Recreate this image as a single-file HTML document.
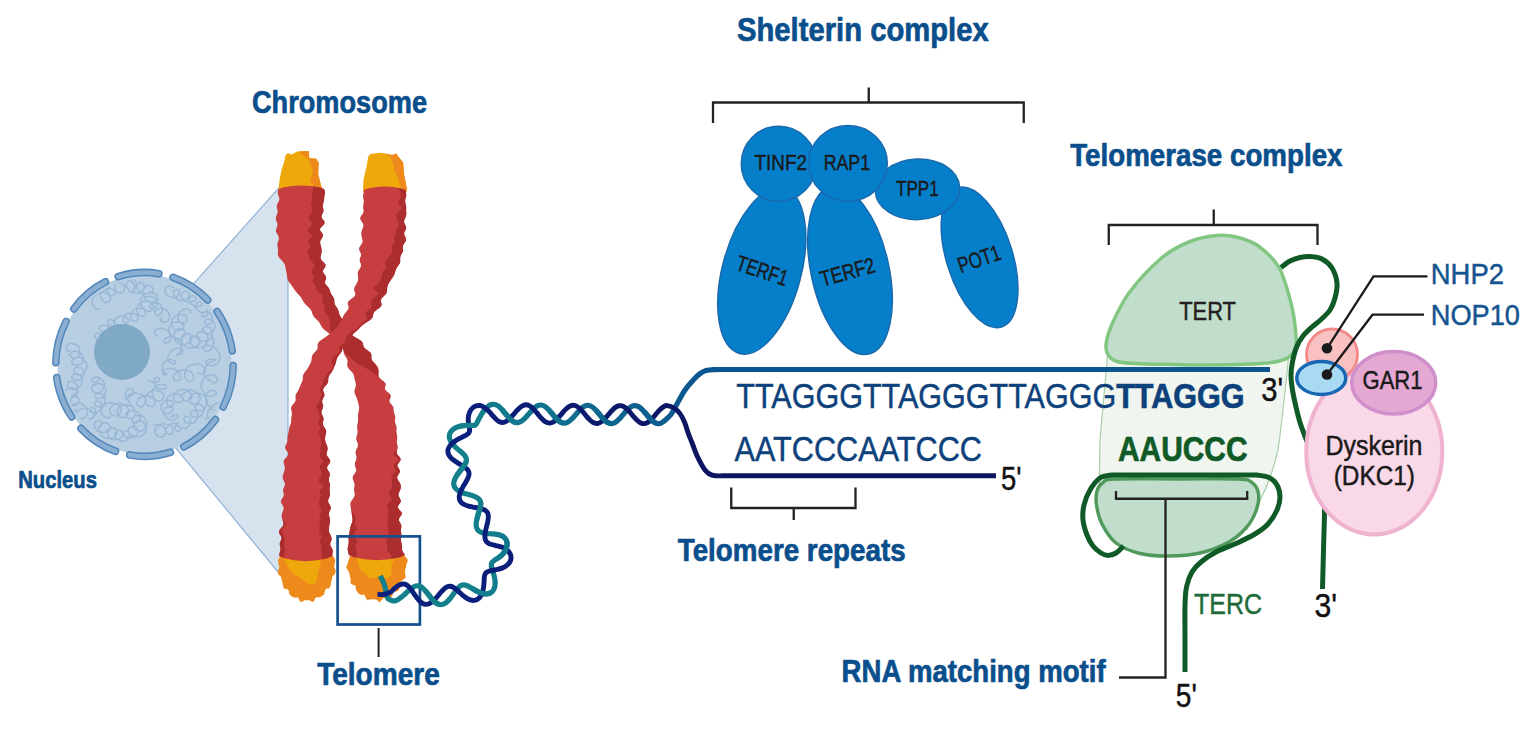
<!DOCTYPE html>
<html lang="en"><head><meta charset="utf-8"><title>Telomere structure</title>
<style>html,body{margin:0;padding:0;background:#fff;overflow:hidden}svg{display:block}</style></head>
<body>
<svg width="1536" height="730" viewBox="0 0 1536 730" font-family="'Liberation Sans', Arial, sans-serif">
<defs>
<linearGradient id="gT" gradientUnits="userSpaceOnUse" x1="470" y1="0" x2="700" y2="0"><stop offset="0" stop-color="#13808c"/><stop offset="1" stop-color="#0b5590"/></linearGradient>
<linearGradient id="gN" gradientUnits="userSpaceOnUse" x1="470" y1="0" x2="700" y2="0"><stop offset="0" stop-color="#0b1f7c"/><stop offset="1" stop-color="#0d1560"/></linearGradient>
<clipPath id="nuc"><ellipse cx="144.5" cy="364.4" rx="83.0" ry="86.0"/></clipPath>
</defs>
<rect width="1536" height="730" fill="#ffffff"/>
<path d="M150,332.7 L288,177.7 L288,584 L150,416.7 Z" fill="#d6e2ee" stroke="#8fb2d6" stroke-width="1.2" stroke-linejoin="round"/>
<ellipse cx="144.5" cy="364.4" rx="87.0" ry="90.0" fill="#b8cfe3"/>
<g clip-path="url(#nuc)" fill="none" stroke="#99b8d5" stroke-width="1.45" stroke-linecap="round">
<path d="M100.13,308.67 C99.57,308.74 97.83,309.40 96.81,309.07 C95.80,308.73 94.77,307.39 94.03,306.66 C93.30,305.92 92.69,305.65 92.39,304.67 C92.09,303.69 92.06,301.92 92.21,300.76 C92.37,299.60 92.84,298.60 93.33,297.71 C93.81,296.82 94.12,296.28 95.13,295.43 C96.14,294.58 98.10,293.15 99.38,292.61 C100.66,292.08 101.59,292.12 102.79,292.22 C103.99,292.33 105.57,292.82 106.60,293.27 C107.64,293.71 108.35,294.28 109.00,294.90 C109.65,295.52 110.30,296.10 110.51,296.98 C110.73,297.85 110.53,299.36 110.27,300.15 C110.00,300.94 109.52,301.41 108.93,301.73 C108.34,302.04 107.53,301.93 106.72,302.03 C105.91,302.13 104.84,302.65 104.05,302.33 C103.27,302.02 102.48,300.87 102.04,300.15 C101.59,299.43 101.68,298.84 101.36,298.00 C101.04,297.17 99.99,296.07 100.09,295.15 C100.19,294.23 101.35,293.27 101.96,292.48 C102.57,291.69 102.96,290.99 103.76,290.41 C104.55,289.83 105.77,289.33 106.74,288.97 C107.71,288.61 108.68,288.19 109.60,288.26 C110.53,288.33 111.51,289.05 112.30,289.38 C113.09,289.71 113.84,289.90 114.35,290.24 C114.86,290.58 115.17,290.88 115.37,291.45 C115.57,292.02 115.68,293.10 115.53,293.67 C115.37,294.25 114.79,294.59 114.44,294.89 C114.10,295.19 114.02,295.29 113.46,295.49 C112.90,295.69 111.74,296.26 111.07,296.09 C110.39,295.93 109.87,295.18 109.41,294.49 C108.95,293.79 108.69,292.67 108.30,291.94 C107.90,291.21 106.92,290.94 107.04,290.11 C107.16,289.28 108.34,287.99 109.00,286.96 C109.66,285.93 110.22,284.56 110.98,283.94 C111.75,283.32 112.48,283.54 113.60,283.25 C114.71,282.96 116.50,282.25 117.65,282.20 C118.80,282.15 119.60,282.46 120.52,282.94 C121.44,283.42 122.44,284.41 123.19,285.07 C123.94,285.72 124.85,286.11 125.03,286.88 C125.22,287.65 124.47,288.98 124.30,289.69 C124.13,290.40 124.36,290.63 124.01,291.15 C123.66,291.68 123.03,292.53 122.20,292.82 C121.36,293.10 119.89,293.08 118.99,292.85 C118.09,292.63 117.42,292.01 116.79,291.45 C116.16,290.88 115.55,290.34 115.19,289.45 C114.84,288.57 114.52,287.16 114.68,286.13 C114.83,285.11 115.43,284.23 116.13,283.33 C116.83,282.42 117.91,281.35 118.87,280.71 C119.83,280.07 120.65,279.75 121.88,279.49 C123.10,279.22 124.89,279.02 126.21,279.11 C127.53,279.20 128.81,279.46 129.80,280.02 C130.78,280.59 131.32,281.60 132.12,282.52 C132.92,283.44 134.28,284.56 134.59,285.55 C134.90,286.55 134.32,287.60 133.99,288.51 C133.66,289.42 132.41,291.09 132.64,291.00 C132.86,290.90 134.68,288.89 135.31,287.93 C135.94,286.96 136.30,286.06 136.41,285.19 C136.51,284.33 136.19,283.58 135.95,282.76 C135.70,281.93 135.64,280.79 134.95,280.25 C134.26,279.71 132.70,279.64 131.81,279.53 C130.92,279.42 130.21,279.32 129.61,279.62 C129.02,279.91 128.83,280.63 128.25,281.30 C127.66,281.97 126.42,282.78 126.10,283.66 C125.78,284.54 125.93,285.62 126.33,286.56 C126.73,287.50 127.85,288.40 128.52,289.31 C129.20,290.21 129.37,291.43 130.38,291.99 C131.40,292.56 133.20,292.50 134.61,292.71 C136.01,292.92 137.73,293.48 138.81,293.24 C139.89,292.99 140.29,291.84 141.10,291.23 C141.91,290.61 143.15,290.30 143.68,289.56 C144.21,288.82 144.26,287.55 144.30,286.80 C144.33,286.04 144.04,285.62 143.89,285.03 C143.73,284.43 143.95,283.64 143.37,283.24 C142.80,282.83 141.17,282.62 140.45,282.60 C139.73,282.57 139.48,282.74 139.05,283.07 C138.61,283.41 138.31,284.07 137.86,284.58 C137.41,285.09 136.38,285.39 136.35,286.13 C136.33,286.86 137.31,288.14 137.73,289.00 C138.14,289.86 138.40,290.66 138.85,291.30 C139.30,291.94 139.59,292.48 140.41,292.85 C141.23,293.22 142.76,293.42 143.78,293.52 C144.80,293.62 145.65,293.62 146.51,293.45 C147.37,293.27 148.13,292.80 148.91,292.49 C149.70,292.17 150.52,291.89 151.22,291.57 C151.92,291.25 152.87,291.19 153.09,290.58 C153.31,289.96 152.80,288.60 152.53,287.89 C152.26,287.17 152.11,286.72 151.50,286.31 C150.88,285.90 149.60,285.53 148.83,285.42 C148.07,285.30 147.59,285.21 146.89,285.61 C146.20,286.02 145.32,287.15 144.66,287.86 C144.00,288.57 143.23,288.92 142.93,289.90 C142.64,290.88 142.63,292.61 142.89,293.76 C143.14,294.90 143.95,295.86 144.46,296.77 C144.97,297.67 145.10,298.38 145.96,299.21 C146.83,300.04 148.60,301.25 149.66,301.74 C150.72,302.24 151.36,302.25 152.34,302.18 C153.31,302.10 154.65,301.69 155.51,301.29 C156.37,300.89 157.17,300.33 157.52,299.78 C157.86,299.23 157.76,298.83 157.60,298.01 C157.43,297.18 157.17,295.67 156.54,294.83 C155.91,293.99 154.78,293.32 153.84,292.96 C152.91,292.60 152.02,292.64 150.93,292.67 C149.84,292.69 148.49,292.66 147.31,293.10 C146.13,293.54 144.90,294.37 143.83,295.31 C142.76,296.24 141.40,297.57 140.88,298.71 C140.35,299.84 140.61,300.84 140.66,302.11 C140.71,303.37 140.82,305.24 141.19,306.30 C141.56,307.36 142.15,307.81 142.90,308.45 C143.64,309.09 144.69,309.65 145.66,310.15 C146.62,310.66 147.56,311.53 148.68,311.49 C149.81,311.45 151.60,310.56 152.42,309.91 C153.24,309.26 153.48,308.37 153.59,307.59 C153.70,306.82 153.43,306.09 153.09,305.25 C152.75,304.41 152.17,303.16 151.55,302.55 C150.93,301.95 150.29,301.82 149.35,301.63 C148.41,301.45 147.05,301.39 145.90,301.45 C144.75,301.52 143.47,301.67 142.46,302.01 C141.45,302.35 140.65,302.77 139.83,303.52 C139.00,304.26 138.04,305.45 137.52,306.46 C137.00,307.46 136.83,308.61 136.71,309.55 C136.59,310.49 136.48,311.24 136.82,312.10 C137.15,312.97 138.11,314.18 138.73,314.73 C139.34,315.28 139.86,315.11 140.49,315.39 C141.12,315.67 141.81,316.40 142.50,316.40 C143.20,316.40 144.05,315.82 144.64,315.37 C145.23,314.92 145.96,314.21 146.06,313.69 C146.16,313.17 145.51,312.83 145.24,312.24 C144.96,311.65 144.96,310.77 144.40,310.16 C143.84,309.56 142.71,308.86 141.90,308.60 C141.09,308.34 140.40,308.56 139.53,308.60 C138.66,308.64 137.69,308.57 136.67,308.85 C135.65,309.13 134.27,309.51 133.42,310.27 C132.57,311.03 131.96,312.64 131.59,313.42 C131.23,314.21 131.40,314.22 131.21,315.00 C131.02,315.78 130.34,317.24 130.45,318.11 C130.56,318.98 131.28,319.71 131.87,320.22 C132.46,320.74 133.41,321.00 133.98,321.20 C134.55,321.39 134.83,321.52 135.27,321.40 C135.71,321.27 136.09,320.90 136.61,320.44 C137.14,319.99 138.30,319.24 138.45,318.67 C138.59,318.10 137.74,317.66 137.49,317.02 C137.24,316.38 137.54,315.39 136.94,314.82 C136.34,314.26 134.90,313.83 133.88,313.64 C132.87,313.45 131.63,313.72 130.84,313.68 C130.05,313.65 129.95,313.23 129.12,313.43 C128.29,313.63 126.73,314.34 125.87,314.91 C125.00,315.47 124.34,316.26 123.92,316.82 C123.50,317.37 123.51,317.64 123.35,318.22 C123.20,318.80 122.95,319.70 123.00,320.31 C123.06,320.93 123.31,321.47 123.68,321.93 C124.04,322.39 124.73,322.83 125.19,323.06 C125.64,323.29 126.05,323.37 126.41,323.32 C126.77,323.27 126.96,323.18 127.35,322.74 C127.75,322.29 128.63,321.24 128.79,320.65 C128.94,320.06 128.66,319.58 128.31,319.19 C127.96,318.81 127.16,318.80 126.67,318.33 C126.17,317.87 126.15,316.79 125.36,316.42 C124.57,316.05 122.74,316.18 121.94,316.12 C121.13,316.05 121.23,315.87 120.53,316.03 C119.83,316.19 118.57,316.61 117.74,317.06 C116.92,317.52 116.09,318.06 115.59,318.76 C115.09,319.47 114.89,320.52 114.76,321.29 C114.62,322.06 114.68,322.78 114.75,323.39 C114.83,324.00 114.83,324.66 115.21,324.97 C115.58,325.28 116.55,325.16 117.00,325.24 C117.46,325.32 117.59,325.45 117.93,325.46 C118.27,325.48 119.13,325.18 119.05,325.34 C118.97,325.49 118.27,326.18 117.44,326.41 C116.61,326.65 115.08,326.75 114.07,326.74 C113.07,326.74 112.16,326.71 111.41,326.40 C110.66,326.09 110.15,325.41 109.57,324.87 C109.00,324.34 108.25,323.67 107.94,323.21 C107.64,322.74 107.58,322.59 107.74,322.08 C107.91,321.57 108.59,320.54 108.95,320.16 C109.31,319.78 109.39,319.87 109.89,319.80 C110.39,319.74 111.29,319.54 111.94,319.78 C112.58,320.02 113.40,320.62 113.77,321.25 C114.14,321.88 114.01,322.93 114.16,323.55 C114.30,324.18 114.72,324.27 114.65,325.02 C114.59,325.77 114.23,327.18 113.76,328.07 C113.29,328.96 112.51,329.77 111.81,330.36 C111.12,330.96 110.45,331.30 109.58,331.65 C108.72,332.00 107.64,332.29 106.62,332.47 C105.59,332.65 104.20,332.92 103.42,332.74 C102.63,332.55 102.51,331.88 101.92,331.35 C101.32,330.82 100.26,330.21 99.83,329.54 C99.40,328.87 99.08,327.94 99.32,327.32 C99.55,326.70 100.67,326.19 101.25,325.82 C101.83,325.46 102.06,325.24 102.79,325.16 C103.53,325.08 104.74,325.08 105.65,325.34 C106.56,325.60 107.63,326.07 108.26,326.74 C108.88,327.41 109.01,328.51 109.39,329.37 C109.77,330.23 110.53,330.84 110.56,331.88 C110.58,332.92 110.10,334.52 109.55,335.60 C109.00,336.68 108.21,337.74 107.26,338.38 C106.32,339.02 104.97,339.21 103.90,339.44 C102.83,339.66 101.87,339.64 100.84,339.72 C99.81,339.79 98.55,340.22 97.71,339.90 C96.88,339.59 96.35,338.40 95.82,337.84 C95.29,337.28 94.75,336.95 94.51,336.54 C94.27,336.12 94.04,335.87 94.38,335.33 C94.71,334.79 95.97,333.63 96.51,333.31 C97.06,332.98 97.07,333.33 97.64,333.37 C98.22,333.40 99.25,333.25 99.97,333.52 C100.69,333.78 101.49,334.33 101.95,334.95 C102.41,335.56 102.65,336.35 102.75,337.22 C102.85,338.09 102.59,339.43 102.56,340.19 C102.52,340.94 102.90,341.08 102.55,341.75 C102.21,342.42 101.35,343.44 100.48,344.20 C99.62,344.96 97.87,345.94 97.35,346.29"/>
<path d="M173.99,287.60 C173.47,287.32 171.77,286.12 170.88,285.90 C170.00,285.69 169.50,286.14 168.68,286.32 C167.86,286.50 166.58,286.50 165.96,286.99 C165.34,287.48 165.06,288.39 164.96,289.26 C164.87,290.14 165.24,291.42 165.41,292.23 C165.57,293.04 165.54,293.50 165.95,294.12 C166.36,294.73 167.26,295.47 167.86,295.92 C168.46,296.38 168.66,296.57 169.53,296.84 C170.41,297.10 172.02,297.38 173.12,297.49 C174.22,297.60 175.36,297.76 176.14,297.49 C176.92,297.22 177.28,296.47 177.81,295.86 C178.33,295.25 179.07,294.47 179.30,293.83 C179.53,293.20 179.13,292.60 179.18,292.05 C179.24,291.49 179.64,290.86 179.62,290.50 C179.60,290.14 179.56,290.06 179.07,289.88 C178.59,289.71 177.31,289.44 176.69,289.47 C176.07,289.50 175.95,289.70 175.35,290.05 C174.76,290.41 173.42,291.07 173.11,291.59 C172.81,292.12 173.31,292.44 173.52,293.20 C173.73,293.97 174.07,295.36 174.37,296.17 C174.67,296.99 174.65,297.45 175.32,298.10 C175.99,298.75 177.46,299.68 178.41,300.07 C179.36,300.46 180.01,300.44 181.02,300.45 C182.02,300.45 183.30,300.45 184.45,300.12 C185.59,299.79 187.17,299.05 187.88,298.47 C188.59,297.88 188.39,297.33 188.69,296.60 C188.98,295.87 189.73,294.89 189.65,294.09 C189.57,293.28 188.61,292.31 188.19,291.78 C187.76,291.25 187.54,291.03 187.09,290.90 C186.64,290.76 186.15,290.78 185.50,290.97 C184.84,291.15 183.74,291.54 183.15,292.00 C182.56,292.45 182.27,293.08 181.94,293.72 C181.62,294.36 181.18,295.10 181.20,295.82 C181.21,296.54 181.53,297.19 182.05,298.03 C182.57,298.87 183.61,300.29 184.33,300.85 C185.04,301.40 185.46,301.06 186.36,301.35 C187.26,301.65 188.79,302.57 189.73,302.61 C190.67,302.64 191.22,301.93 192.02,301.58 C192.81,301.23 193.79,300.90 194.48,300.52 C195.17,300.13 195.95,299.73 196.14,299.26 C196.34,298.79 195.71,298.24 195.66,297.69 C195.61,297.14 196.07,296.26 195.84,295.97 C195.62,295.67 194.89,296.01 194.31,295.94 C193.72,295.87 192.91,295.45 192.31,295.54 C191.72,295.62 191.25,296.03 190.74,296.44 C190.24,296.85 189.55,297.30 189.30,298.00 C189.05,298.69 189.10,299.79 189.23,300.62 C189.37,301.45 189.78,302.37 190.10,302.96 C190.41,303.56 190.44,303.73 191.12,304.21 C191.81,304.69 193.43,305.46 194.20,305.85 C194.97,306.25 195.00,306.51 195.73,306.57 C196.46,306.63 197.65,306.35 198.58,306.21 C199.51,306.07 200.84,306.09 201.30,305.76 C201.75,305.43 201.13,304.61 201.30,304.22 C201.48,303.83 202.42,303.86 202.35,303.42 C202.29,302.99 201.21,301.92 200.91,301.60 C200.60,301.28 200.80,301.44 200.55,301.50 C200.29,301.55 199.88,301.78 199.35,301.93 C198.83,302.08 197.90,302.06 197.38,302.39 C196.87,302.73 196.54,303.40 196.25,303.95 C195.95,304.51 195.68,304.97 195.63,305.70 C195.58,306.44 195.53,307.57 195.96,308.36 C196.39,309.15 197.59,309.89 198.20,310.44 C198.81,311.00 198.95,311.35 199.61,311.71 C200.27,312.06 201.37,312.50 202.18,312.58 C202.99,312.65 203.78,312.29 204.47,312.17 C205.15,312.05 205.85,312.05 206.31,311.87 C206.77,311.69 207.08,311.59 207.23,311.10 C207.38,310.60 207.12,308.75 207.22,308.89 C207.32,309.03 207.82,311.12 207.85,311.94 C207.87,312.77 207.55,313.20 207.38,313.85 C207.21,314.49 207.23,315.34 206.83,315.81 C206.43,316.27 205.59,316.53 204.97,316.63 C204.35,316.74 203.52,316.47 203.09,316.44 C202.67,316.40 202.66,316.74 202.41,316.41 C202.16,316.09 201.68,314.90 201.58,314.47 C201.48,314.04 201.61,314.11 201.81,313.82 C202.00,313.52 202.30,313.07 202.74,312.71 C203.19,312.35 203.76,311.74 204.48,311.65 C205.20,311.56 206.39,312.03 207.05,312.16 C207.70,312.28 207.82,312.05 208.39,312.40 C208.97,312.76 209.88,313.55 210.50,314.29 C211.12,315.03 211.82,316.07 212.09,316.84 C212.36,317.61 212.05,318.15 212.12,318.90 C212.20,319.65 212.71,320.60 212.54,321.35 C212.36,322.11 211.63,323.02 211.07,323.41 C210.52,323.79 209.83,323.43 209.20,323.65 C208.58,323.87 207.96,324.78 207.31,324.72 C206.66,324.66 205.68,323.62 205.30,323.30 C204.91,322.97 205.05,322.94 204.97,322.75 C204.89,322.56 204.69,322.65 204.81,322.15 C204.93,321.65 205.20,320.20 205.71,319.75 C206.22,319.29 207.26,319.52 207.85,319.40 C208.45,319.29 208.64,318.94 209.29,319.05 C209.93,319.16 210.89,319.49 211.70,320.07 C212.52,320.66 213.66,321.87 214.15,322.56 C214.64,323.25 214.53,323.40 214.64,324.22 C214.76,325.03 214.98,326.60 214.86,327.44 C214.73,328.27 214.35,328.42 213.89,329.21 C213.44,330.01 212.90,331.46 212.12,332.20 C211.35,332.94 210.11,333.50 209.24,333.66 C208.36,333.83 207.65,333.33 206.88,333.18 C206.11,333.03 205.15,333.16 204.61,332.75 C204.08,332.34 204.00,331.33 203.66,330.73 C203.32,330.13 202.68,329.52 202.58,329.15 C202.47,328.78 202.57,328.85 203.04,328.50 C203.50,328.15 204.65,327.38 205.37,327.05 C206.09,326.72 206.62,326.44 207.37,326.52 C208.11,326.59 209.18,327.01 209.87,327.50 C210.55,327.99 211.15,328.66 211.48,329.45 C211.82,330.25 211.72,331.40 211.88,332.27 C212.03,333.13 212.51,333.67 212.42,334.64 C212.33,335.60 211.84,337.18 211.32,338.06 C210.80,338.94 210.29,339.42 209.30,339.92 C208.32,340.42 206.63,340.81 205.40,341.08 C204.18,341.35 202.95,341.65 201.93,341.53 C200.92,341.41 200.08,340.85 199.33,340.36 C198.59,339.88 197.83,339.45 197.46,338.62 C197.10,337.80 197.17,336.15 197.13,335.41 C197.08,334.67 196.95,334.67 197.21,334.18 C197.46,333.68 197.92,332.91 198.66,332.43 C199.41,331.96 200.67,331.20 201.69,331.32 C202.72,331.44 203.88,332.68 204.82,333.16 C205.75,333.63 206.80,333.44 207.31,334.15 C207.82,334.86 207.87,336.26 207.86,337.43 C207.86,338.61 207.65,340.13 207.29,341.21 C206.94,342.29 206.43,343.03 205.73,343.91 C205.04,344.80 204.33,345.93 203.12,346.54 C201.91,347.16 199.68,347.55 198.46,347.61 C197.24,347.67 196.80,347.19 195.80,346.89 C194.79,346.59 193.28,346.40 192.45,345.79 C191.61,345.18 191.20,344.02 190.77,343.23 C190.35,342.43 190.07,341.87 189.91,341.01 C189.75,340.15 189.46,338.90 189.83,338.08 C190.19,337.26 191.35,336.44 192.09,336.10 C192.83,335.77 193.43,336.04 194.25,336.07 C195.07,336.09 196.26,335.97 197.02,336.26 C197.78,336.54 198.41,337.05 198.82,337.76 C199.24,338.48 199.34,339.68 199.53,340.53 C199.71,341.38 200.24,342.03 199.92,342.87 C199.59,343.71 198.35,344.76 197.57,345.55 C196.79,346.34 196.36,347.21 195.23,347.61 C194.10,348.01 192.19,348.03 190.80,347.96 C189.40,347.90 187.87,347.63 186.86,347.23 C185.85,346.83 185.63,346.33 184.73,345.55 C183.84,344.78 181.96,343.50 181.48,342.58 C181.00,341.67 181.76,340.99 181.86,340.06 C181.96,339.13 181.90,337.87 182.10,336.99 C182.30,336.11 182.28,335.33 183.05,334.79 C183.81,334.24 185.68,333.86 186.68,333.73 C187.68,333.60 188.33,333.69 189.05,334.00 C189.77,334.32 190.48,335.08 191.01,335.61 C191.53,336.14 192.18,336.43 192.19,337.17 C192.20,337.91 191.45,339.15 191.05,340.05 C190.65,340.95 190.51,341.95 189.80,342.57 C189.09,343.18 187.79,343.36 186.79,343.72 C185.79,344.07 185.02,344.64 183.80,344.70 C182.58,344.76 180.79,344.69 179.47,344.09 C178.16,343.49 176.70,341.90 175.89,341.09 C175.09,340.27 175.00,340.11 174.65,339.20 C174.30,338.30 173.75,336.70 173.79,335.64 C173.83,334.59 174.45,333.82 174.89,332.87 C175.32,331.93 175.73,330.74 176.40,329.98 C177.07,329.23 178.00,328.43 178.89,328.34 C179.79,328.24 180.96,329.06 181.77,329.41 C182.58,329.76 183.09,329.88 183.76,330.43 C184.44,330.98 185.57,332.01 185.83,332.72 C186.09,333.44 185.83,334.03 185.33,334.72 C184.83,335.40 183.63,336.17 182.85,336.83 C182.07,337.48 181.70,338.33 180.67,338.66 C179.63,339.00 177.79,339.06 176.64,338.83 C175.49,338.60 174.75,337.82 173.79,337.29 C172.83,336.76 171.67,336.42 170.86,335.63 C170.06,334.84 169.34,333.57 168.98,332.55 C168.62,331.53 168.54,330.65 168.71,329.52 C168.88,328.40 169.33,326.97 170.02,325.81 C170.71,324.65 171.88,323.21 172.84,322.57 C173.81,321.93 174.78,322.09 175.81,321.97 C176.83,321.86 178.04,321.67 179.00,321.88 C179.96,322.08 180.81,322.77 181.57,323.20 C182.32,323.64 183.17,323.86 183.54,324.49 C183.91,325.13 183.92,326.17 183.80,326.99 C183.67,327.81 183.34,328.90 182.79,329.40 C182.23,329.91 181.33,329.79 180.47,330.02 C179.60,330.25 178.54,330.78 177.60,330.78 C176.66,330.77 175.67,330.55 174.85,329.98 C174.03,329.41 173.26,328.27 172.69,327.36 C172.11,326.46 171.59,325.68 171.42,324.57 C171.26,323.45 171.45,321.76 171.71,320.70 C171.97,319.64 172.33,319.07 173.01,318.22 C173.69,317.38 174.70,316.25 175.81,315.63 C176.91,315.02 178.56,314.67 179.65,314.53 C180.73,314.39 181.29,314.65 182.30,314.77 C183.32,314.90 185.02,314.81 185.72,315.28 C186.43,315.76 186.29,316.91 186.53,317.62 C186.78,318.34 187.14,319.03 187.17,319.59 C187.21,320.14 187.18,320.42 186.74,320.96 C186.30,321.49 185.31,322.51 184.55,322.79 C183.79,323.06 183.00,322.73 182.17,322.62 C181.34,322.51 180.18,322.64 179.59,322.13 C179.01,321.63 178.92,320.43 178.65,319.60 C178.37,318.76 178.05,317.94 177.94,317.14 C177.82,316.34 177.66,315.62 177.94,314.79 C178.22,313.97 179.04,312.83 179.61,312.17 C180.17,311.51 180.62,311.33 181.32,310.84 C182.01,310.35 182.84,309.59 183.77,309.21 C184.70,308.83 186.11,308.50 186.90,308.57 C187.69,308.65 187.90,309.28 188.51,309.64 C189.12,310.00 190.20,310.28 190.57,310.75 C190.95,311.21 190.73,312.15 190.76,312.43"/>
<path d="M69.80,350.96 C69.34,350.82 67.63,350.52 67.05,350.09 C66.46,349.66 66.34,349.03 66.29,348.36 C66.24,347.70 66.45,346.70 66.74,346.11 C67.03,345.51 67.51,345.33 68.03,344.80 C68.55,344.27 69.07,343.11 69.86,342.94 C70.65,342.76 71.82,343.42 72.80,343.76 C73.77,344.09 74.85,344.62 75.71,344.95 C76.57,345.28 77.30,345.06 77.97,345.75 C78.64,346.45 79.47,348.24 79.73,349.12 C79.99,349.99 79.59,350.11 79.54,350.99 C79.49,351.87 79.73,353.37 79.45,354.41 C79.17,355.44 78.53,356.62 77.85,357.21 C77.18,357.79 76.20,357.69 75.40,357.91 C74.60,358.13 73.75,358.73 73.06,358.50 C72.38,358.27 71.83,357.03 71.29,356.54 C70.75,356.05 69.98,356.07 69.81,355.55 C69.64,355.04 70.02,354.01 70.28,353.43 C70.53,352.85 70.80,352.41 71.33,352.09 C71.87,351.77 72.76,351.69 73.50,351.50 C74.25,351.32 74.92,350.81 75.83,350.98 C76.74,351.14 78.05,352.02 78.94,352.50 C79.82,352.97 80.47,353.10 81.14,353.81 C81.81,354.53 82.57,355.87 82.94,356.79 C83.30,357.72 83.41,358.47 83.34,359.37 C83.28,360.26 82.94,361.33 82.56,362.16 C82.18,362.99 81.75,363.93 81.06,364.36 C80.38,364.79 79.33,364.57 78.46,364.76 C77.58,364.95 76.57,365.45 75.79,365.49 C75.02,365.54 74.48,365.32 73.83,365.02 C73.19,364.72 72.21,364.27 71.92,363.69 C71.63,363.10 71.90,362.20 72.07,361.49 C72.24,360.77 72.31,360.01 72.94,359.40 C73.57,358.78 74.90,358.23 75.85,357.80 C76.79,357.38 77.56,356.77 78.61,356.87 C79.65,356.98 81.01,357.65 82.10,358.41 C83.19,359.18 84.42,360.55 85.16,361.48 C85.90,362.41 86.27,363.05 86.55,364.00 C86.84,364.95 86.99,366.20 86.89,367.19 C86.79,368.18 86.55,368.93 85.96,369.95 C85.38,370.97 84.27,372.46 83.38,373.31 C82.49,374.15 81.64,374.77 80.62,375.02 C79.60,375.27 78.10,375.05 77.25,374.80 C76.39,374.54 76.02,374.08 75.48,373.49 C74.94,372.89 74.21,371.82 74.00,371.21 C73.79,370.60 73.99,370.39 74.21,369.82 C74.44,369.24 74.78,368.18 75.33,367.75 C75.87,367.33 76.83,367.25 77.47,367.28 C78.12,367.31 78.57,367.82 79.21,367.95 C79.85,368.09 80.61,367.65 81.31,368.07 C82.01,368.48 82.96,369.82 83.42,370.44 C83.88,371.06 84.02,371.00 84.07,371.78 C84.12,372.56 84.03,374.11 83.72,375.11 C83.41,376.11 82.63,377.22 82.20,377.80 C81.77,378.38 81.71,378.16 81.13,378.58 C80.56,378.99 79.51,379.98 78.78,380.31 C78.04,380.64 77.55,380.62 76.70,380.58 C75.86,380.53 74.34,380.29 73.69,380.03 C73.03,379.77 73.13,379.47 72.78,379.01 C72.43,378.55 71.68,377.80 71.57,377.27 C71.47,376.73 71.77,376.34 72.15,375.80 C72.52,375.26 73.18,374.29 73.81,374.04 C74.44,373.79 75.11,374.24 75.92,374.29 C76.73,374.35 77.82,374.04 78.66,374.39 C79.50,374.73 80.44,375.41 80.97,376.35 C81.50,377.28 81.68,379.02 81.84,380.00 C82.00,380.98 82.10,381.29 81.93,382.22 C81.75,383.16 81.43,384.71 80.80,385.61 C80.18,386.51 79.09,387.06 78.16,387.64 C77.22,388.22 76.25,388.75 75.20,389.08 C74.16,389.42 72.84,389.86 71.91,389.66 C70.98,389.45 70.37,388.32 69.62,387.85 C68.88,387.38 67.74,387.46 67.44,386.85 C67.13,386.24 67.71,384.91 67.79,384.20 C67.86,383.49 67.49,383.10 67.88,382.58 C68.27,382.06 69.38,381.18 70.14,381.06 C70.90,380.93 71.80,381.56 72.46,381.83 C73.12,382.11 73.41,382.28 74.12,382.70 C74.82,383.12 76.14,383.61 76.72,384.33 C77.29,385.06 77.50,386.21 77.58,387.03 C77.66,387.85 77.38,388.39 77.19,389.27 C77.01,390.14 76.99,391.36 76.45,392.29 C75.91,393.23 74.77,394.35 73.97,394.89 C73.16,395.43 71.69,395.25 71.64,395.53 C71.59,395.81 72.85,396.63 73.68,396.57 C74.50,396.50 75.97,395.60 76.59,395.14 C77.21,394.68 77.21,394.56 77.42,393.79 C77.62,393.02 78.00,391.23 77.81,390.52 C77.63,389.81 76.96,389.86 76.29,389.53 C75.63,389.20 74.81,388.83 73.82,388.55 C72.83,388.27 71.43,387.71 70.35,387.85 C69.26,387.99 68.19,388.77 67.32,389.39 C66.44,390.00 65.61,390.59 65.09,391.54 C64.58,392.50 64.27,393.77 64.21,395.12 C64.16,396.48 64.40,398.43 64.78,399.67 C65.15,400.90 65.66,401.65 66.47,402.54 C67.28,403.43 68.65,404.50 69.63,405.02 C70.62,405.54 71.25,405.64 72.38,405.66 C73.50,405.67 75.41,405.52 76.39,405.11 C77.37,404.70 77.73,403.91 78.28,403.22 C78.82,402.53 79.48,401.57 79.65,400.99 C79.82,400.41 79.60,400.28 79.30,399.71 C79.01,399.14 78.44,398.07 77.88,397.58 C77.31,397.09 76.64,396.87 75.90,396.79 C75.16,396.71 74.21,396.77 73.44,397.09 C72.67,397.42 71.73,398.06 71.26,398.74 C70.80,399.43 70.89,400.57 70.65,401.22 C70.40,401.86 69.82,401.79 69.78,402.64 C69.75,403.49 70.19,405.47 70.43,406.30 C70.67,407.13 70.63,407.03 71.20,407.61 C71.78,408.19 72.94,409.24 73.87,409.77 C74.81,410.30 76.78,410.67 76.83,410.80 C76.88,410.93 74.87,410.62 74.16,410.53 C73.45,410.43 72.98,410.51 72.58,410.25 C72.17,409.98 71.95,409.48 71.72,408.95 C71.49,408.41 71.11,407.77 71.20,407.02 C71.29,406.28 71.62,405.02 72.24,404.45 C72.86,403.88 73.86,403.82 74.91,403.61 C75.96,403.41 77.49,403.26 78.54,403.24 C79.60,403.22 80.25,403.07 81.23,403.51 C82.21,403.96 83.55,405.14 84.44,405.91 C85.32,406.69 86.11,407.22 86.54,408.15 C86.97,409.09 86.98,410.34 87.04,411.52 C87.10,412.70 87.26,414.30 86.90,415.22 C86.55,416.14 85.64,416.44 84.93,417.04 C84.22,417.63 83.58,418.57 82.64,418.78 C81.70,418.98 80.13,418.52 79.28,418.25 C78.43,417.98 78.06,417.81 77.54,417.16 C77.02,416.51 76.27,415.14 76.17,414.38 C76.07,413.62 76.55,413.26 76.96,412.60 C77.37,411.94 77.95,411.01 78.64,410.42 C79.32,409.83 79.99,409.43 81.09,409.07 C82.18,408.71 84.05,408.27 85.19,408.27 C86.33,408.26 87.02,408.69 87.93,409.03 C88.85,409.37 89.87,409.70 90.70,410.30 C91.53,410.91 92.46,411.86 92.93,412.67 C93.41,413.49 93.43,414.47 93.54,415.20 C93.65,415.94 93.93,416.51 93.59,417.09 C93.26,417.67 92.24,418.33 91.53,418.66 C90.83,418.99 89.09,419.29 89.38,419.06 C89.67,418.82 92.43,417.84 93.26,417.26 C94.09,416.68 93.83,416.29 94.38,415.60 C94.93,414.90 96.37,413.78 96.56,413.11 C96.75,412.44 95.75,412.20 95.52,411.58 C95.29,410.96 95.49,409.93 95.20,409.39 C94.90,408.86 94.19,408.72 93.77,408.39 C93.36,408.07 93.10,407.67 92.72,407.44 C92.33,407.21 91.90,406.82 91.45,407.03 C90.99,407.24 90.23,408.30 90.00,408.70 C89.77,409.10 90.01,408.90 90.06,409.42 C90.11,409.95 90.06,411.38 90.30,411.84 C90.54,412.29 90.85,412.00 91.50,412.15 C92.15,412.31 93.49,412.73 94.21,412.78 C94.93,412.84 95.07,412.70 95.83,412.48 C96.59,412.27 98.09,411.87 98.78,411.52 C99.47,411.17 99.54,410.98 99.99,410.39 C100.43,409.80 101.24,408.68 101.43,407.98 C101.63,407.28 101.14,406.91 101.14,406.19 C101.15,405.47 101.64,404.45 101.47,403.67 C101.30,402.89 100.72,401.86 100.14,401.53 C99.55,401.20 98.60,401.74 97.98,401.68 C97.36,401.62 96.96,401.02 96.41,401.17 C95.85,401.32 94.93,402.26 94.63,402.59 C94.33,402.91 94.63,402.79 94.61,403.14 C94.59,403.49 94.24,404.17 94.52,404.69 C94.79,405.21 95.68,405.92 96.27,406.24 C96.86,406.56 97.43,406.55 98.06,406.60 C98.69,406.65 99.32,406.83 100.06,406.55 C100.81,406.28 101.81,405.34 102.54,404.94 C103.27,404.54 104.03,404.78 104.46,404.14 C104.88,403.50 104.98,402.08 105.08,401.09 C105.18,400.10 105.22,399.07 105.06,398.22 C104.89,397.38 104.59,396.79 104.08,396.04 C103.56,395.29 102.64,394.12 101.96,393.74 C101.28,393.35 100.72,393.81 99.99,393.74 C99.27,393.67 98.27,393.27 97.62,393.31 C96.96,393.36 96.47,393.55 96.06,394.00 C95.64,394.45 95.22,395.56 95.12,396.01 C95.02,396.45 95.22,396.24 95.46,396.67 C95.70,397.09 96.04,398.26 96.55,398.56 C97.06,398.85 97.90,398.56 98.52,398.45 C99.14,398.33 99.56,397.98 100.27,397.88 C100.98,397.77 102.08,398.31 102.78,397.83 C103.48,397.35 104.00,395.74 104.46,394.99 C104.91,394.23 105.30,394.11 105.51,393.28 C105.73,392.45 105.89,391.03 105.74,390.00 C105.60,388.97 105.34,388.02 104.65,387.10 C103.95,386.18 102.62,385.12 101.58,384.49 C100.54,383.86 99.34,383.37 98.40,383.32 C97.46,383.27 96.86,383.90 95.93,384.19 C95.00,384.48 93.56,384.52 92.84,385.05 C92.12,385.58 91.78,386.69 91.62,387.36 C91.47,388.02 91.71,388.39 91.90,389.04 C92.09,389.69 92.13,390.67 92.75,391.26 C93.37,391.85 94.60,392.42 95.63,392.61 C96.65,392.79 97.91,392.66 98.93,392.38 C99.95,392.10 101.04,391.67 101.76,390.92 C102.48,390.17 102.79,388.83 103.26,387.88 C103.72,386.93 104.51,386.26 104.54,385.22 C104.57,384.19 103.96,382.65 103.45,381.65 C102.94,380.65 102.18,379.80 101.47,379.25 C100.77,378.71 99.91,378.81 99.20,378.37 C98.50,377.93 97.92,376.76 97.25,376.63 C96.57,376.50 95.83,377.31 95.16,377.59 C94.50,377.88 93.80,378.11 93.27,378.37 C92.74,378.63 92.11,378.70 91.98,379.16 C91.86,379.62 92.35,380.70 92.53,381.12 C92.71,381.54 92.61,381.42 93.07,381.66 C93.54,381.89 94.72,382.60 95.32,382.55 C95.93,382.49 96.16,381.67 96.71,381.33 C97.26,380.99 98.32,380.64 98.65,380.50"/>
<path d="M98.04,427.53 C98.43,427.38 99.70,427.08 100.36,426.64 C101.02,426.20 101.78,425.49 102.02,424.86 C102.25,424.24 101.88,423.46 101.75,422.89 C101.62,422.32 101.63,421.78 101.24,421.45 C100.84,421.12 99.85,420.96 99.37,420.88 C98.89,420.80 98.93,420.93 98.37,420.96 C97.82,421.00 96.66,420.67 96.05,421.08 C95.44,421.50 95.03,422.67 94.71,423.44 C94.39,424.20 94.05,424.94 94.14,425.67 C94.24,426.40 94.78,426.96 95.28,427.81 C95.78,428.66 96.50,430.12 97.15,430.75 C97.79,431.39 98.25,431.34 99.13,431.62 C100.01,431.90 101.44,432.32 102.43,432.41 C103.42,432.51 104.08,432.35 105.08,432.18 C106.07,432.02 107.66,431.92 108.42,431.44 C109.19,430.96 109.38,430.08 109.67,429.31 C109.97,428.53 110.32,427.62 110.18,426.78 C110.04,425.95 109.40,424.93 108.83,424.31 C108.27,423.68 107.42,423.28 106.77,423.03 C106.12,422.78 105.87,422.65 104.94,422.82 C104.00,423.00 102.01,423.48 101.13,424.11 C100.25,424.73 100.10,425.71 99.67,426.57 C99.24,427.43 98.48,428.23 98.54,429.26 C98.60,430.29 99.59,431.72 100.05,432.75 C100.51,433.78 100.44,434.63 101.31,435.47 C102.17,436.32 104.04,437.28 105.24,437.81 C106.44,438.34 107.21,438.73 108.50,438.66 C109.79,438.59 111.84,437.86 112.98,437.37 C114.13,436.87 114.72,436.38 115.36,435.70 C115.99,435.02 116.56,434.08 116.79,433.26 C117.02,432.44 117.05,431.54 116.76,430.78 C116.47,430.02 115.60,429.14 115.03,428.68 C114.46,428.22 113.96,428.13 113.32,428.02 C112.69,427.90 111.86,427.79 111.20,428.00 C110.55,428.22 110.10,428.89 109.39,429.31 C108.68,429.72 107.21,429.80 106.93,430.51 C106.66,431.23 107.48,432.59 107.74,433.58 C108.01,434.58 108.13,435.67 108.52,436.46 C108.91,437.25 109.34,437.84 110.07,438.34 C110.80,438.83 111.99,439.22 112.91,439.44 C113.82,439.66 114.57,439.71 115.56,439.67 C116.54,439.63 118.01,439.52 118.82,439.20 C119.64,438.88 119.76,438.27 120.43,437.75 C121.11,437.23 122.57,436.76 122.88,436.06 C123.18,435.37 122.33,434.23 122.26,433.57 C122.19,432.91 122.74,432.58 122.48,432.11 C122.23,431.64 121.46,431.00 120.73,430.73 C120.00,430.47 118.68,430.42 118.09,430.51 C117.50,430.60 117.71,430.86 117.16,431.30 C116.62,431.74 115.16,432.42 114.81,433.15 C114.47,433.88 115.02,434.96 115.08,435.71 C115.15,436.45 114.71,436.99 115.21,437.61 C115.70,438.23 117.17,438.91 118.03,439.43 C118.88,439.95 119.45,440.50 120.32,440.75 C121.19,440.99 122.20,440.98 123.24,440.90 C124.27,440.81 125.64,440.67 126.53,440.24 C127.42,439.81 128.08,439.04 128.60,438.32 C129.11,437.60 129.46,436.67 129.60,435.93 C129.74,435.19 129.50,434.45 129.43,433.89 C129.36,433.33 129.54,433.05 129.18,432.55 C128.82,432.06 127.67,431.19 127.27,430.91 C126.87,430.63 127.17,430.81 126.78,430.89 C126.38,430.97 125.29,431.10 124.89,431.39 C124.49,431.67 124.57,432.10 124.35,432.60 C124.14,433.10 123.58,433.93 123.61,434.38 C123.64,434.83 124.09,434.86 124.54,435.31 C124.98,435.77 125.63,436.64 126.29,437.10 C126.95,437.56 127.71,437.98 128.48,438.08 C129.24,438.18 130.07,437.82 130.88,437.71 C131.69,437.61 132.48,437.73 133.34,437.46 C134.20,437.18 135.44,436.59 136.03,436.07 C136.63,435.55 136.50,435.20 136.90,434.34 C137.30,433.49 138.36,431.75 138.43,430.94 C138.49,430.13 137.73,430.16 137.28,429.47 C136.84,428.77 136.29,427.36 135.74,426.76 C135.19,426.15 134.75,425.82 133.99,425.85 C133.23,425.89 132.01,426.63 131.19,426.97 C130.37,427.31 129.54,427.24 129.07,427.87 C128.59,428.50 128.28,429.84 128.34,430.74 C128.41,431.65 129.10,432.60 129.47,433.32 C129.85,434.04 129.74,434.59 130.60,435.06 C131.46,435.53 133.43,435.89 134.62,436.16 C135.82,436.43 136.59,436.78 137.77,436.69 C138.95,436.60 140.51,436.27 141.69,435.61 C142.88,434.95 144.18,433.64 144.88,432.72 C145.58,431.80 145.63,431.05 145.91,430.07 C146.20,429.08 146.81,427.80 146.58,426.80 C146.36,425.79 145.31,424.95 144.57,424.02 C143.83,423.09 143.03,421.71 142.15,421.23 C141.27,420.76 140.16,421.14 139.29,421.17 C138.42,421.19 137.82,421.03 136.92,421.38 C136.02,421.73 134.44,422.60 133.90,423.26 C133.35,423.92 133.72,424.60 133.64,425.33 C133.57,426.05 133.09,426.90 133.46,427.62 C133.82,428.34 135.03,429.14 135.83,429.63 C136.63,430.12 137.24,430.36 138.24,430.57 C139.23,430.79 140.73,431.26 141.78,430.94 C142.84,430.61 143.88,429.28 144.58,428.60 C145.27,427.92 145.56,427.75 145.95,426.87 C146.33,425.98 146.87,424.27 146.89,423.29 C146.90,422.31 146.50,421.96 146.04,420.99 C145.59,420.02 144.95,418.36 144.16,417.45 C143.36,416.55 142.27,415.81 141.27,415.54 C140.28,415.28 139.19,415.80 138.17,415.86 C137.16,415.91 136.02,415.60 135.20,415.88 C134.37,416.17 133.80,417.17 133.23,417.59 C132.65,418.01 131.91,417.87 131.76,418.40 C131.60,418.93 132.10,420.09 132.30,420.75 C132.50,421.40 132.46,422.00 132.93,422.34 C133.39,422.67 134.51,422.70 135.09,422.77 C135.67,422.84 135.90,423.03 136.41,422.76 C136.91,422.49 137.56,421.57 138.12,421.16 C138.68,420.76 139.45,420.94 139.77,420.33 C140.10,419.73 139.96,418.41 140.07,417.54 C140.18,416.68 140.75,416.00 140.43,415.16 C140.11,414.31 138.93,413.12 138.15,412.49 C137.37,411.87 136.67,411.75 135.73,411.40 C134.78,411.06 133.46,410.48 132.48,410.42 C131.49,410.37 130.66,410.84 129.82,411.08 C128.99,411.33 128.06,411.46 127.46,411.91 C126.86,412.36 126.48,413.13 126.22,413.77 C125.95,414.41 125.86,415.21 125.88,415.77 C125.90,416.33 125.96,416.66 126.33,417.11 C126.70,417.57 127.41,418.28 128.11,418.48 C128.81,418.68 129.71,418.40 130.54,418.30 C131.37,418.21 132.42,418.38 133.08,417.92 C133.75,417.46 134.12,416.23 134.54,415.54 C134.96,414.84 135.63,414.63 135.62,413.75 C135.61,412.86 134.90,411.28 134.48,410.23 C134.06,409.18 133.96,408.30 133.11,407.43 C132.25,406.56 130.55,405.48 129.36,405.03 C128.18,404.58 127.09,404.64 125.97,404.73 C124.86,404.82 123.76,405.23 122.66,405.56 C121.56,405.88 120.18,405.97 119.37,406.68 C118.57,407.39 118.20,408.76 117.82,409.79 C117.44,410.83 116.91,411.93 117.11,412.91 C117.30,413.88 118.44,414.96 118.98,415.62 C119.53,416.28 119.49,416.57 120.37,416.87 C121.25,417.17 123.29,417.50 124.27,417.40 C125.25,417.30 125.67,416.88 126.24,416.26 C126.81,415.63 127.21,414.54 127.70,413.65 C128.18,412.75 129.22,411.92 129.16,410.88 C129.09,409.85 127.90,408.38 127.31,407.45 C126.71,406.52 126.41,405.89 125.59,405.30 C124.77,404.70 123.55,404.25 122.41,403.89 C121.27,403.53 119.99,403.15 118.77,403.16 C117.55,403.16 116.15,403.51 115.11,403.93 C114.08,404.35 113.35,404.89 112.55,405.69 C111.74,406.49 110.72,407.75 110.30,408.72 C109.88,409.70 109.84,410.65 110.01,411.56 C110.19,412.47 110.83,413.62 111.35,414.21 C111.88,414.80 112.41,414.78 113.14,415.10 C113.87,415.41 114.90,416.14 115.74,416.11 C116.59,416.08 117.46,415.45 118.21,414.94 C118.96,414.42 119.85,413.70 120.26,413.02 C120.67,412.35 120.55,411.76 120.68,410.88 C120.81,410.00 121.54,408.77 121.06,407.73 C120.58,406.69 118.98,405.36 117.81,404.65 C116.65,403.94 115.31,403.77 114.10,403.47 C112.88,403.17 111.77,402.81 110.51,402.84 C109.25,402.87 107.59,403.18 106.53,403.63 C105.46,404.09 104.96,404.76 104.11,405.59 C103.27,406.42 101.90,407.57 101.44,408.60 C100.99,409.63 101.22,410.74 101.38,411.76 C101.54,412.78 101.75,413.82 102.39,414.74 C103.03,415.66 104.28,416.78 105.23,417.28 C106.17,417.78 107.13,417.83 108.06,417.72 C108.98,417.62 110.32,416.83 110.77,416.65"/>
<path d="M153.65,425.11 C154.10,424.98 155.08,424.32 156.34,424.34 C157.60,424.36 160.00,424.81 161.20,425.24 C162.40,425.66 162.86,426.13 163.56,426.87 C164.25,427.60 164.94,428.66 165.36,429.65 C165.79,430.63 166.34,431.88 166.11,432.78 C165.88,433.69 164.59,434.34 163.97,435.07 C163.34,435.80 162.97,436.88 162.38,437.17 C161.79,437.47 161.29,437.07 160.45,436.86 C159.60,436.65 158.08,436.43 157.29,435.90 C156.50,435.37 156.10,434.45 155.73,433.69 C155.36,432.94 155.10,432.33 155.07,431.35 C155.04,430.38 154.92,428.77 155.56,427.82 C156.20,426.87 157.92,426.27 158.91,425.65 C159.90,425.04 160.41,424.39 161.49,424.13 C162.57,423.88 164.03,423.96 165.37,424.12 C166.72,424.28 168.50,424.68 169.55,425.08 C170.60,425.48 171.09,425.91 171.68,426.51 C172.26,427.12 172.76,427.99 173.06,428.73 C173.36,429.47 173.63,430.19 173.46,430.97 C173.30,431.76 172.56,432.83 172.08,433.43 C171.59,434.03 171.02,434.41 170.54,434.56 C170.06,434.70 169.75,434.46 169.19,434.31 C168.63,434.16 167.70,434.06 167.16,433.65 C166.62,433.23 166.24,432.54 165.96,431.83 C165.67,431.11 165.29,430.17 165.45,429.35 C165.62,428.52 166.34,427.54 166.94,426.89 C167.54,426.23 168.39,425.88 169.05,425.44 C169.71,424.99 170.07,424.54 170.88,424.20 C171.69,423.87 172.86,423.35 173.89,423.43 C174.93,423.50 176.30,424.23 177.08,424.65 C177.86,425.07 177.96,425.45 178.57,425.95 C179.18,426.44 180.35,427.18 180.74,427.63 C181.13,428.09 181.06,428.21 180.92,428.69 C180.79,429.18 180.29,430.16 179.94,430.56 C179.59,430.97 179.24,430.98 178.82,431.12 C178.39,431.26 177.89,431.49 177.40,431.38 C176.91,431.27 176.19,430.97 175.87,430.46 C175.55,429.95 175.56,428.86 175.46,428.31 C175.35,427.75 175.13,427.70 175.25,427.14 C175.36,426.58 175.64,425.73 176.12,424.97 C176.61,424.20 178.07,422.73 178.15,422.53 C178.24,422.34 176.72,423.27 176.63,423.80 C176.54,424.33 177.29,425.32 177.63,425.73 C177.96,426.13 178.12,425.83 178.64,426.21 C179.16,426.58 179.99,427.71 180.74,427.99 C181.49,428.27 182.34,427.86 183.13,427.89 C183.91,427.92 184.64,428.45 185.47,428.18 C186.29,427.90 187.36,426.88 188.08,426.24 C188.81,425.60 189.47,425.06 189.80,424.35 C190.13,423.64 189.89,422.84 190.05,421.97 C190.21,421.10 190.78,419.85 190.75,419.14 C190.71,418.43 190.36,418.09 189.82,417.72 C189.29,417.35 188.24,417.14 187.54,416.90 C186.83,416.66 186.10,416.22 185.58,416.26 C185.06,416.29 184.70,416.66 184.42,417.10 C184.13,417.55 183.87,418.43 183.87,418.92 C183.87,419.42 184.24,419.53 184.40,420.09 C184.56,420.66 184.34,421.86 184.82,422.31 C185.30,422.77 186.38,422.74 187.28,422.81 C188.18,422.88 189.35,422.67 190.23,422.72 C191.11,422.78 191.63,423.41 192.55,423.13 C193.48,422.84 194.96,421.83 195.76,421.03 C196.57,420.22 197.12,419.13 197.37,418.31 C197.63,417.50 197.21,416.87 197.28,416.14 C197.34,415.41 197.89,414.68 197.75,413.94 C197.62,413.20 196.99,412.20 196.45,411.71 C195.91,411.21 195.14,411.15 194.53,410.96 C193.93,410.77 193.47,410.47 192.82,410.59 C192.16,410.72 190.99,411.34 190.59,411.71 C190.19,412.08 190.42,412.37 190.40,412.82 C190.39,413.27 190.30,413.88 190.50,414.43 C190.70,414.98 191.11,415.72 191.60,416.13 C192.10,416.53 192.65,416.72 193.47,416.84 C194.30,416.97 195.64,416.89 196.57,416.87 C197.50,416.84 198.19,417.06 199.07,416.71 C199.95,416.36 201.11,415.55 201.84,414.78 C202.57,414.01 203.09,412.85 203.45,412.07 C203.80,411.29 203.98,410.90 203.98,410.11 C203.99,409.32 203.76,408.07 203.46,407.34 C203.17,406.61 202.67,406.23 202.19,405.75 C201.72,405.27 201.24,404.84 200.61,404.47 C199.98,404.10 199.17,403.46 198.43,403.53 C197.69,403.61 196.69,404.58 196.18,404.93 C195.68,405.28 195.57,405.35 195.40,405.62 C195.22,405.89 195.05,405.93 195.12,406.55 C195.19,407.17 195.39,408.71 195.82,409.32 C196.26,409.93 196.98,409.99 197.73,410.20 C198.48,410.40 199.38,410.53 200.33,410.55 C201.29,410.57 202.62,410.83 203.46,410.32 C204.31,409.81 204.80,408.45 205.40,407.49 C205.99,406.53 206.73,405.54 207.04,404.57 C207.36,403.59 207.48,402.81 207.31,401.62 C207.13,400.43 206.61,398.46 205.97,397.42 C205.33,396.38 204.58,396.03 203.45,395.37 C202.32,394.72 200.56,393.87 199.19,393.51 C197.82,393.15 196.39,393.00 195.21,393.21 C194.04,393.42 192.99,394.08 192.14,394.77 C191.29,395.46 190.67,396.48 190.14,397.36 C189.60,398.24 188.95,399.21 188.94,400.03 C188.92,400.86 189.57,401.72 190.05,402.32 C190.53,402.93 191.20,403.33 191.83,403.65 C192.46,403.97 192.97,404.32 193.84,404.24 C194.71,404.15 196.22,403.66 197.05,403.15 C197.88,402.63 198.29,401.85 198.82,401.17 C199.35,400.48 200.10,399.83 200.23,399.05 C200.35,398.27 199.98,397.45 199.57,396.48 C199.16,395.51 198.44,394.03 197.79,393.23 C197.15,392.42 196.71,392.16 195.70,391.65 C194.69,391.13 192.97,390.30 191.71,390.11 C190.45,389.91 189.09,390.13 188.15,390.48 C187.22,390.82 186.87,391.73 186.11,392.20 C185.35,392.66 184.33,392.64 183.58,393.28 C182.84,393.92 181.75,395.23 181.65,396.04 C181.55,396.85 182.59,397.40 183.00,398.13 C183.40,398.86 183.46,399.94 184.06,400.40 C184.66,400.86 185.88,400.89 186.60,400.89 C187.32,400.89 187.74,400.69 188.38,400.39 C189.02,400.08 189.85,399.59 190.45,399.06 C191.05,398.54 191.89,398.05 191.98,397.24 C192.07,396.43 191.44,395.06 191.00,394.20 C190.56,393.33 190.03,392.76 189.32,392.07 C188.62,391.38 187.74,390.48 186.75,390.06 C185.77,389.65 184.73,389.57 183.43,389.59 C182.13,389.61 180.14,389.83 178.96,390.19 C177.78,390.55 177.08,391.03 176.33,391.76 C175.58,392.49 174.91,393.69 174.46,394.56 C174.01,395.42 173.73,396.03 173.65,396.94 C173.57,397.85 173.66,399.24 173.98,400.01 C174.29,400.78 174.90,401.20 175.54,401.57 C176.18,401.94 177.03,402.11 177.82,402.25 C178.60,402.39 179.66,402.51 180.24,402.40 C180.83,402.28 180.91,402.04 181.34,401.56 C181.76,401.09 182.63,400.27 182.77,399.53 C182.91,398.79 182.59,397.80 182.19,397.11 C181.78,396.43 181.01,395.97 180.35,395.41 C179.68,394.85 179.16,394.04 178.19,393.75 C177.23,393.45 175.58,393.61 174.54,393.62 C173.51,393.63 172.90,393.44 171.99,393.81 C171.08,394.17 169.94,394.99 169.09,395.82 C168.23,396.64 167.18,397.93 166.87,398.75 C166.55,399.57 167.24,399.95 167.21,400.73 C167.18,401.51 166.56,402.70 166.69,403.44 C166.81,404.18 167.36,404.80 167.98,405.19 C168.60,405.58 169.80,405.59 170.40,405.75 C171.00,405.92 171.23,406.28 171.57,406.20 C171.92,406.12 172.08,405.73 172.45,405.27 C172.83,404.81 173.79,403.87 173.84,403.45 C173.90,403.03 173.10,403.15 172.76,402.75 C172.43,402.35 172.26,401.48 171.82,401.06 C171.38,400.63 170.88,400.26 170.12,400.20 C169.35,400.14 167.95,400.66 167.23,400.70 C166.50,400.74 166.45,400.14 165.78,400.45 C165.12,400.76 163.99,401.82 163.23,402.56 C162.48,403.30 161.58,404.27 161.27,404.90 C160.96,405.54 161.35,405.54 161.36,406.37 C161.37,407.20 160.99,408.90 161.34,409.89 C161.69,410.88 162.84,411.76 163.46,412.30 C164.08,412.85 164.20,412.84 165.06,413.15 C165.91,413.45 167.66,414.30 168.57,414.15 C169.47,413.99 169.84,412.71 170.49,412.25 C171.13,411.78 171.98,411.66 172.42,411.38 C172.85,411.10 173.10,411.16 173.09,410.54 C173.07,409.92 172.71,408.18 172.30,407.67 C171.90,407.15 171.28,407.52 170.68,407.45 C170.07,407.37 169.40,407.27 168.65,407.22 C167.91,407.16 166.87,406.81 166.22,407.13 C165.56,407.44 165.14,408.29 164.73,409.11 C164.32,409.93 163.86,411.07 163.76,412.02 C163.66,412.98 163.73,414.01 164.11,414.87 C164.48,415.72 165.45,416.52 166.01,417.16 C166.57,417.80 166.72,418.21 167.47,418.71 C168.22,419.21 169.48,419.87 170.52,420.16 C171.57,420.45 173.01,420.55 173.73,420.45 C174.45,420.34 174.36,419.87 174.85,419.54 C175.35,419.21 176.20,418.83 176.70,418.48 C177.19,418.14 177.76,417.98 177.82,417.48 C177.89,416.97 177.38,415.89 177.07,415.45 C176.77,415.01 176.38,414.87 175.98,414.81 C175.58,414.76 175.19,415.11 174.66,415.13 C174.13,415.14 173.32,414.61 172.80,414.90 C172.28,415.19 171.30,416.60 171.53,416.86 C171.76,417.13 173.72,416.56 174.16,416.49"/>
<path d="M210.52,335.07 C210.94,335.65 212.50,337.35 213.05,338.56 C213.59,339.78 213.77,341.11 213.80,342.34 C213.82,343.58 213.50,344.92 213.18,345.96 C212.86,346.99 212.51,347.78 211.87,348.56 C211.23,349.35 210.22,350.21 209.33,350.66 C208.44,351.11 207.25,351.27 206.51,351.26 C205.77,351.26 205.35,350.88 204.87,350.62 C204.39,350.36 203.84,350.18 203.63,349.70 C203.42,349.22 203.52,348.28 203.62,347.75 C203.72,347.23 203.66,346.96 204.24,346.55 C204.82,346.14 206.17,345.37 207.12,345.27 C208.07,345.17 208.88,345.63 209.95,345.94 C211.02,346.24 212.52,346.52 213.57,347.08 C214.62,347.65 215.40,348.41 216.25,349.32 C217.10,350.23 218.01,351.45 218.66,352.55 C219.32,353.64 220.02,354.67 220.17,355.88 C220.32,357.09 219.93,358.57 219.56,359.80 C219.18,361.04 218.75,362.42 217.90,363.29 C217.06,364.17 215.52,364.61 214.49,365.05 C213.47,365.50 212.70,365.90 211.76,365.95 C210.81,366.00 209.61,365.66 208.83,365.37 C208.05,365.09 207.57,364.75 207.07,364.23 C206.56,363.71 205.86,362.82 205.81,362.25 C205.76,361.68 206.21,361.29 206.75,360.80 C207.29,360.31 208.19,359.51 209.06,359.31 C209.92,359.11 210.83,359.47 211.94,359.58 C213.04,359.70 215.76,359.66 215.70,359.99 C215.65,360.33 212.83,361.04 211.60,361.61 C210.37,362.18 209.34,362.53 208.34,363.41 C207.33,364.28 206.28,365.53 205.59,366.85 C204.91,368.17 204.40,369.99 204.22,371.33 C204.04,372.66 204.08,373.71 204.51,374.88 C204.94,376.04 205.94,377.35 206.80,378.29 C207.66,379.24 208.70,379.91 209.70,380.55 C210.69,381.19 211.90,381.76 212.78,382.13 C213.66,382.51 214.34,382.92 215.00,382.80 C215.65,382.67 216.29,382.00 216.72,381.39 C217.14,380.78 217.62,379.83 217.57,379.14 C217.51,378.46 216.97,377.90 216.39,377.26 C215.80,376.61 214.94,375.66 214.06,375.27 C213.18,374.89 212.26,374.87 211.09,374.95 C209.93,375.03 208.26,375.18 207.06,375.77 C205.86,376.35 204.75,377.54 203.90,378.48 C203.04,379.42 202.39,380.23 201.93,381.43 C201.48,382.62 201.22,384.42 201.16,385.67 C201.10,386.93 201.11,387.85 201.56,388.94 C202.02,390.04 203.10,391.18 203.88,392.24 C204.66,393.31 205.28,394.69 206.23,395.33 C207.17,395.97 208.52,395.97 209.54,396.10 C210.57,396.24 211.50,396.29 212.40,396.12 C213.30,395.95 214.35,395.44 214.94,395.09 C215.53,394.75 215.75,394.56 215.93,394.04 C216.11,393.52 216.26,392.50 216.02,391.95 C215.79,391.40 215.15,390.97 214.53,390.74 C213.92,390.51 213.12,390.57 212.35,390.57 C211.58,390.57 210.67,390.44 209.91,390.77 C209.15,391.11 208.46,391.72 207.79,392.58 C207.12,393.45 206.27,394.83 205.90,395.97 C205.53,397.11 205.34,398.05 205.56,399.40 C205.78,400.75 206.51,402.87 207.24,404.07 C207.96,405.26 209.00,405.65 209.89,406.57 C210.78,407.49 211.48,408.97 212.58,409.58 C213.69,410.20 215.29,410.12 216.53,410.26 C217.77,410.39 219.06,410.63 220.01,410.41 C220.96,410.18 221.73,409.48 222.23,408.91 C222.72,408.34 222.94,407.59 222.99,406.98 C223.04,406.38 222.87,405.86 222.52,405.28 C222.17,404.69 221.67,403.86 220.88,403.47 C220.09,403.09 218.92,402.76 217.79,402.98 C216.66,403.21 215.21,404.17 214.12,404.84 C213.03,405.50 212.21,405.95 211.24,406.98 C210.26,408.01 208.93,409.81 208.27,411.00 C207.60,412.19 207.28,413.04 207.24,414.13 C207.21,415.21 207.74,416.56 208.05,417.49 C208.36,418.41 208.69,418.99 209.11,419.69 C209.53,420.39 210.13,421.20 210.60,421.68 C211.06,422.16 211.36,422.51 211.93,422.57 C212.50,422.63 213.55,422.26 214.01,422.03 C214.48,421.80 214.67,421.51 214.70,421.21 C214.72,420.91 214.47,420.58 214.17,420.23 C213.86,419.88 213.31,419.51 212.89,419.13 C212.47,418.75 212.28,418.18 211.65,417.93 C211.01,417.69 210.06,417.48 209.06,417.66 C208.06,417.84 206.20,418.79 205.63,419.01"/>
<path d="M125.96,396.41 C126.28,396.39 127.07,396.47 127.88,396.33 C128.69,396.20 129.94,396.01 130.79,395.61 C131.64,395.20 132.52,394.49 132.96,393.92 C133.41,393.35 133.44,392.83 133.46,392.17 C133.47,391.52 133.26,390.45 133.06,390.00 C132.86,389.56 132.84,389.77 132.25,389.49 C131.67,389.22 130.26,388.43 129.53,388.37 C128.80,388.30 128.43,388.60 127.89,389.10 C127.35,389.61 126.76,390.55 126.31,391.38 C125.86,392.22 125.39,393.13 125.21,394.11 C125.04,395.10 124.92,396.31 125.25,397.31 C125.58,398.31 126.28,399.28 127.18,400.10 C128.08,400.92 130.54,402.16 130.66,402.20 C130.78,402.24 128.36,400.94 127.92,400.35 C127.48,399.75 127.91,399.26 128.04,398.64 C128.16,398.02 128.32,397.40 128.66,396.64 C129.00,395.88 129.29,394.61 130.10,394.06 C130.92,393.50 132.43,393.44 133.56,393.29 C134.68,393.14 135.64,392.95 136.84,393.16 C138.04,393.36 139.71,394.09 140.77,394.51 C141.82,394.94 142.39,395.06 143.17,395.71 C143.95,396.36 145.02,397.37 145.47,398.42 C145.92,399.46 146.06,401.03 145.87,401.98 C145.68,402.92 144.85,403.38 144.36,404.09 C143.86,404.80 143.35,405.74 142.89,406.24 C142.42,406.73 142.24,407.07 141.57,407.08 C140.89,407.08 139.57,406.58 138.85,406.25 C138.13,405.92 137.54,405.58 137.25,405.10 C136.96,404.62 137.02,404.12 137.11,403.38 C137.19,402.64 137.50,401.51 137.77,400.66 C138.04,399.80 137.93,398.88 138.73,398.24 C139.53,397.60 141.24,397.28 142.57,396.84 C143.89,396.40 145.55,395.64 146.68,395.58 C147.81,395.53 148.37,396.13 149.33,396.51 C150.28,396.89 151.50,397.32 152.42,397.86 C153.33,398.41 154.42,398.90 154.80,399.78 C155.18,400.65 154.78,402.26 154.70,403.10 C154.61,403.93 154.58,404.21 154.29,404.79 C153.99,405.36 153.55,406.30 152.91,406.55 C152.27,406.80 151.31,406.39 150.45,406.29 C149.60,406.20 148.54,406.48 147.77,405.98 C147.01,405.48 146.29,404.22 145.88,403.30 C145.47,402.39 145.34,401.55 145.33,400.50 C145.31,399.45 145.45,398.12 145.79,397.00 C146.12,395.88 146.53,394.70 147.35,393.79 C148.17,392.87 149.45,392.13 150.72,391.49 C151.99,390.86 153.80,390.10 154.97,389.98 C156.14,389.86 156.68,390.43 157.74,390.78 C158.80,391.13 160.31,391.52 161.35,392.09 C162.38,392.66 163.57,393.35 163.94,394.19 C164.31,395.04 163.74,396.41 163.57,397.16 C163.39,397.91 163.30,398.15 162.88,398.69 C162.46,399.23 161.91,399.99 161.05,400.39 C160.19,400.78 158.78,401.24 157.72,401.05 C156.66,400.86 155.49,400.08 154.67,399.24 C153.84,398.39 153.11,397.09 152.75,395.97 C152.39,394.86 152.45,393.58 152.49,392.55 C152.53,391.53 152.60,390.77 152.97,389.84 C153.34,388.90 153.96,387.76 154.72,386.94 C155.48,386.12 156.65,385.25 157.54,384.93 C158.42,384.61 159.07,385.16 160.03,385.04 C160.98,384.92 162.43,384.24 163.26,384.22 C164.10,384.20 164.57,384.49 165.02,384.90 C165.47,385.31 165.78,386.09 165.98,386.68 C166.18,387.27 166.47,388.08 166.23,388.44 C166.00,388.80 165.26,388.78 164.56,388.84 C163.85,388.91 162.74,388.74 161.99,388.82 C161.24,388.89 160.76,389.45 160.06,389.30 C159.36,389.15 158.58,388.47 157.79,387.90 C157.00,387.33 155.87,386.50 155.33,385.86 C154.79,385.22 154.78,384.64 154.55,384.04 C154.32,383.45 153.96,382.98 153.94,382.27 C153.91,381.56 154.15,380.41 154.42,379.78 C154.68,379.15 155.16,378.79 155.53,378.47 C155.89,378.14 156.20,377.95 156.61,377.81 C157.02,377.68 157.68,377.66 157.99,377.64 C158.31,377.62 158.22,377.32 158.50,377.70 C158.78,378.07 159.60,379.35 159.66,379.87 C159.72,380.39 159.26,380.53 158.84,380.83 C158.43,381.13 157.76,381.41 157.15,381.69 C156.54,381.98 155.94,382.50 155.19,382.54 C154.44,382.57 153.56,382.13 152.66,381.89 C151.76,381.65 150.53,381.46 149.79,381.08 C149.05,380.70 148.47,379.85 148.21,379.60"/>
<path d="M157.36,336.47 C157.04,336.15 155.93,335.15 155.43,334.56 C154.93,333.98 154.47,333.56 154.36,332.97 C154.26,332.38 154.46,331.57 154.80,331.02 C155.14,330.46 155.70,330.10 156.41,329.63 C157.13,329.16 158.10,328.44 159.08,328.22 C160.05,327.99 161.13,328.00 162.25,328.26 C163.37,328.53 164.74,329.33 165.78,329.80 C166.83,330.27 167.76,330.34 168.52,331.10 C169.29,331.85 170.05,333.51 170.37,334.35 C170.70,335.19 170.41,335.40 170.45,336.15 C170.50,336.89 170.77,338.02 170.64,338.83 C170.52,339.64 170.09,340.41 169.72,341.00 C169.36,341.59 168.99,342.04 168.46,342.35 C167.92,342.66 167.02,342.73 166.53,342.85 C166.04,342.97 165.95,343.17 165.50,343.09 C165.05,343.01 164.04,342.81 163.81,342.37 C163.58,341.94 163.79,341.16 164.10,340.49 C164.40,339.81 165.02,338.82 165.63,338.32 C166.24,337.81 166.97,337.80 167.77,337.45 C168.56,337.10 169.35,336.27 170.42,336.20 C171.49,336.13 172.90,336.48 174.19,337.02 C175.47,337.55 177.04,338.52 178.14,339.39 C179.23,340.26 180.22,341.18 180.76,342.24 C181.30,343.30 181.30,344.49 181.37,345.75 C181.45,347.01 181.61,348.56 181.22,349.82 C180.83,351.07 179.81,352.40 179.05,353.30 C178.28,354.20 176.54,355.02 176.62,355.22 C176.70,355.41 178.65,354.78 179.52,354.44 C180.40,354.10 181.35,353.78 181.85,353.18 C182.36,352.58 182.49,351.56 182.57,350.82 C182.65,350.08 182.76,349.24 182.34,348.73 C181.93,348.21 180.86,347.80 180.07,347.72 C179.27,347.64 178.55,348.04 177.57,348.24 C176.59,348.45 175.21,348.63 174.19,348.96 C173.18,349.29 172.23,349.53 171.48,350.21 C170.74,350.90 170.29,352.09 169.73,353.08 C169.16,354.08 168.37,355.16 168.08,356.17 C167.80,357.18 167.86,358.22 168.01,359.15 C168.17,360.08 168.48,361.15 169.02,361.73 C169.55,362.32 170.63,362.38 171.22,362.66 C171.82,362.94 172.07,363.21 172.59,363.43 C173.10,363.64 173.87,364.00 174.32,363.95 C174.77,363.89 175.08,363.52 175.30,363.10 C175.52,362.68 175.88,361.90 175.64,361.44 C175.40,360.98 174.42,360.60 173.86,360.34 C173.31,360.09 172.91,360.02 172.28,359.90 C171.66,359.77 170.88,359.57 170.09,359.59 C169.31,359.61 168.43,359.66 167.57,360.02 C166.72,360.37 165.63,361.23 164.97,361.73 C164.30,362.22 164.00,362.23 163.60,362.97 C163.20,363.72 162.75,365.23 162.56,366.19 C162.37,367.16 162.44,367.88 162.45,368.77 C162.46,369.66 162.28,370.87 162.61,371.53 C162.95,372.19 163.75,372.28 164.45,372.72 C165.14,373.15 166.73,373.75 166.79,374.15 C166.86,374.55 165.33,375.05 164.83,375.13 C164.33,375.21 164.08,374.82 163.81,374.65 C163.54,374.48 163.34,374.60 163.19,374.13 C163.04,373.67 162.77,372.53 162.93,371.87 C163.08,371.22 163.53,370.72 164.12,370.22 C164.71,369.72 165.51,369.19 166.47,368.87 C167.42,368.56 168.67,368.26 169.84,368.32 C171.02,368.39 172.39,368.97 173.52,369.27 C174.64,369.58 175.72,369.58 176.61,370.15 C177.50,370.71 178.29,371.74 178.86,372.66 C179.43,373.58 179.71,374.81 180.03,375.66 C180.36,376.51 180.81,377.14 180.79,377.78 C180.78,378.42 180.57,379.03 179.96,379.50 C179.35,379.98 177.91,380.42 177.12,380.65 C176.33,380.89 175.66,381.00 175.21,380.90 C174.76,380.80 174.68,380.47 174.43,380.04 C174.17,379.61 173.84,379.11 173.70,378.32 C173.56,377.53 173.26,376.13 173.58,375.30 C173.90,374.47 174.81,374.01 175.62,373.35 C176.44,372.69 177.30,371.91 178.47,371.34 C179.65,370.78 181.32,370.12 182.67,369.97 C184.03,369.83 185.29,370.26 186.58,370.48 C187.87,370.69 189.48,370.76 190.42,371.27 C191.37,371.77 191.78,372.58 192.27,373.50 C192.77,374.42 193.13,375.92 193.39,376.80 C193.65,377.68 194.03,378.12 193.83,378.79 C193.63,379.46 192.72,380.36 192.17,380.81 C191.63,381.27 191.22,381.51 190.55,381.52 C189.88,381.53 188.97,381.34 188.17,380.89 C187.37,380.43 186.31,379.65 185.73,378.82 C185.15,377.99 184.78,377.01 184.68,375.88 C184.59,374.76 184.91,373.24 185.17,372.06 C185.44,370.88 185.69,369.80 186.28,368.83 C186.88,367.86 187.71,366.93 188.77,366.25 C189.83,365.57 191.27,365.14 192.64,364.74 C194.02,364.34 195.59,363.82 197.03,363.85 C198.47,363.87 200.17,364.35 201.27,364.91 C202.36,365.46 202.98,366.44 203.60,367.16 C204.21,367.87 204.72,368.42 204.97,369.21 C205.22,370.01 205.38,371.28 205.09,371.94 C204.79,372.61 203.93,372.85 203.19,373.19 C202.44,373.53 201.52,373.98 200.62,373.98 C199.72,373.98 198.25,373.32 197.78,373.19"/>
<path d="M144.21,298.94 C144.52,298.57 145.39,297.07 146.08,296.68 C146.76,296.29 147.65,296.72 148.34,296.61 C149.03,296.50 149.34,295.90 150.22,296.02 C151.09,296.15 152.73,296.97 153.58,297.37 C154.44,297.77 154.85,297.83 155.33,298.43 C155.82,299.03 156.17,300.00 156.50,300.99 C156.82,301.99 157.32,303.56 157.30,304.40 C157.29,305.25 156.76,305.44 156.41,306.04 C156.05,306.64 155.76,307.67 155.17,308.00 C154.57,308.34 153.40,307.93 152.85,308.06 C152.30,308.18 152.23,308.79 151.86,308.76 C151.48,308.72 151.00,308.26 150.62,307.83 C150.24,307.41 149.68,306.59 149.58,306.22 C149.49,305.85 149.75,306.14 150.06,305.63 C150.37,305.12 150.91,303.62 151.46,303.18 C152.01,302.75 152.62,303.02 153.35,303.03 C154.08,303.04 154.94,303.18 155.84,303.24 C156.74,303.30 157.89,303.03 158.73,303.38 C159.58,303.74 160.39,304.64 160.92,305.38 C161.45,306.12 161.70,307.06 161.93,307.81 C162.16,308.57 162.32,309.05 162.32,309.91 C162.32,310.77 162.30,312.29 161.93,312.96 C161.56,313.62 160.61,313.43 160.11,313.91 C159.61,314.38 159.51,315.64 158.93,315.81 C158.34,315.99 157.16,315.24 156.61,314.96 C156.06,314.69 155.86,314.49 155.64,314.18 C155.41,313.87 155.44,313.57 155.26,313.09 C155.09,312.60 154.36,311.85 154.59,311.26 C154.83,310.67 156.04,309.97 156.64,309.54 C157.25,309.10 157.34,308.92 158.25,308.66 C159.16,308.39 160.93,307.78 162.10,307.95 C163.27,308.11 164.44,309.17 165.28,309.65 C166.11,310.13 166.48,310.19 167.10,310.81 C167.73,311.44 168.62,312.53 169.04,313.42 C169.47,314.30 169.59,315.25 169.65,316.11 C169.70,316.98 169.72,317.73 169.39,318.62 C169.07,319.52 168.41,320.94 167.69,321.47 C166.98,321.99 165.88,321.65 165.09,321.78 C164.30,321.91 163.67,322.55 162.95,322.24 C162.23,321.92 161.18,320.52 160.77,319.87 C160.36,319.22 160.20,318.10 160.47,318.32 C160.74,318.53 162.07,320.70 162.39,321.17"/>
</g>
<circle cx="122" cy="352" r="28" fill="#80a9c6"/>
<g fill="none" stroke-linecap="round" transform="translate(144.5 364.4) scale(1 1.0355) rotate(-107.3)">
<circle cx="0" cy="0" r="88.75" stroke="#5387ba" stroke-width="7.5" stroke-dasharray="41.29 14.47"/>
<circle cx="0" cy="0" r="88.75" stroke="#8aafd2" stroke-width="4.5" stroke-dasharray="41.29 14.47"/>
</g>
<path d="M351.3,553.5 L348.6,560.0 L347.5,563.9 L346.1,567.7 L348.2,570.6 L349.4,573.4 L350.0,576.4 L350.7,579.4 L350.4,583.3 L352.9,584.8 L355.5,585.8 L355.9,589.5 L357.4,591.9 L359.2,594.0 L361.4,595.1 L364.2,594.4 L365.6,597.6 L367.4,600.3 L370.1,599.3 L372.4,599.5 L374.7,599.2 L377.0,600.1 L379.5,602.5 L381.6,599.9 L383.7,597.8 L386.2,598.5 L388.4,597.8 L390.9,597.6 L392.6,595.1 L393.5,591.4 L396.3,591.5 L398.7,590.4 L399.7,587.3 L401.0,584.7 L401.3,581.4 L403.3,579.4 L405.9,577.6 L405.1,573.7 L405.0,570.3 L406.0,567.3 L406.5,563.9 L408.0,560.0 L402.7,553.5Z" fill="#ee891b"/><path d="M357.23,552.50 C351.15,553.63 356.97,557.10 357.23,559.27 C357.49,561.44 358.18,563.70 358.79,565.52 C359.40,567.34 360.01,569.08 360.88,570.21 C361.74,571.34 363.05,571.60 364.00,572.29 C364.95,572.99 365.91,573.59 366.60,574.38 C367.30,575.16 367.73,576.28 368.17,576.98 C368.60,577.67 368.25,578.42 369.21,578.54 C370.16,578.66 372.33,577.97 373.90,577.71 C375.46,577.45 377.11,576.93 378.58,576.98 C380.06,577.03 381.36,577.76 382.75,578.02 C384.14,578.28 385.70,578.80 386.92,578.54 C388.13,578.28 389.26,577.33 390.04,576.46 C390.82,575.59 391.40,574.64 391.60,573.33 C391.81,572.03 391.29,570.21 391.29,568.65 C391.29,567.08 391.33,565.09 391.60,563.96 C391.88,562.83 392.61,562.48 392.96,561.88 C393.31,561.27 393.57,561.88 393.69,560.31 C393.81,558.75 399.76,553.80 393.69,552.50 C387.61,551.20 363.31,551.37 357.23,552.50Z" fill="#efa80b"/>
<path d="M278.6,189.0 L279.6,179.6 L281.7,169.2 L284.8,159.8 L285.4,155.6 L288.0,153.0 L291.3,154.6 L297.3,151.5 L308.8,150.9 L309.3,158.2 L316.1,158.8 L318.7,162.4 L318.2,174.4 L321.1,185.8 L323.9,192.1 L278.6,192.1Z" fill="#efa80b"/><path d="M298.4,151.5 L308.8,150.9 L309.3,158.2 L316.1,158.8 L318.7,162.4 L318.2,174.4 L321.1,185.8 L323.9,192.1 L316.1,192.1 L314.0,185.8 L309.8,181.7 L311.4,175.9 L313.0,170.2 L310.4,164.5 L308.8,159.8 L303.6,155.6Z" fill="#ee891b"/>
<clipPath id="cc1"><path d="M278.6,189.0 L277.9,191.0 L277.7,193.0 L278.2,195.0 L279.0,197.0 L279.4,199.0 L278.9,201.0 L277.8,203.0 L276.9,205.0 L276.7,207.0 L277.2,209.0 L277.7,211.0 L277.5,213.0 L276.7,215.0 L275.9,217.0 L275.8,219.0 L276.4,221.0 L277.2,223.0 L277.5,225.0 L277.0,227.0 L276.2,229.0 L275.9,231.0 L276.6,233.0 L277.9,235.0 L278.8,237.0 L278.9,239.0 L278.3,241.0 L277.6,243.0 L277.3,245.0 L277.6,247.0 L278.0,249.0 L278.0,251.0 L277.8,253.0 L277.9,255.0 L278.7,257.0 L280.4,259.0 L282.3,261.0 L283.9,263.0 L284.9,265.0 L285.4,267.0 L285.8,269.0 L286.2,271.0 L286.6,273.0 L286.9,275.0 L287.1,277.0 L287.5,279.0 L288.3,281.0 L289.7,283.0 L291.3,285.0 L292.7,287.0 L294.0,289.0 L295.4,291.0 L297.1,293.0 L298.9,295.0 L300.7,297.0 L302.0,299.0 L303.0,301.0 L304.3,303.0 L306.1,305.0 L308.3,307.0 L310.2,309.0 L311.5,311.0 L312.2,313.0 L312.9,315.0 L314.1,317.0 L316.0,319.0 L318.1,321.0 L319.7,323.0 L320.7,325.0 L321.8,327.0 L323.4,329.0 L325.8,331.0 L328.5,333.0 L330.6,335.0 L331.8,337.0 L332.6,339.0 L333.9,341.0 L336.3,343.0 L339.3,345.0 L341.7,347.0 L343.0,349.0 L343.5,351.0 L343.8,353.0 L344.6,355.0 L345.8,357.0 L347.1,359.0 L347.6,361.0 L347.4,363.0 L347.2,365.0 L347.6,367.0 L349.0,369.0 L350.9,371.0 L352.7,373.0 L353.8,375.0 L354.3,377.0 L354.6,379.0 L355.1,381.0 L355.7,383.0 L355.9,385.0 L355.5,387.0 L354.9,389.0 L354.4,391.0 L354.6,393.0 L355.3,395.0 L356.3,397.0 L357.1,399.0 L357.7,401.0 L358.3,403.0 L358.7,405.0 L359.1,407.0 L359.1,409.0 L358.7,411.0 L358.2,413.0 L357.9,415.0 L358.0,417.0 L358.1,419.0 L358.1,421.0 L357.7,423.0 L357.2,425.0 L357.1,427.0 L357.3,429.0 L357.6,431.0 L357.6,433.0 L357.0,435.0 L356.4,437.0 L356.2,439.0 L356.8,441.0 L357.6,443.0 L358.0,445.0 L357.6,447.0 L356.6,449.0 L355.7,451.0 L355.6,453.0 L356.0,455.0 L356.5,457.0 L356.4,459.0 L355.7,461.0 L354.9,463.0 L354.8,465.0 L355.4,467.0 L356.1,469.0 L356.1,471.0 L355.1,473.0 L353.6,475.0 L352.7,477.0 L352.7,479.0 L353.5,481.0 L354.3,483.0 L354.6,485.0 L354.3,487.0 L354.0,489.0 L354.1,491.0 L354.6,493.0 L354.7,495.0 L354.1,497.0 L352.7,499.0 L351.3,501.0 L350.4,503.0 L350.3,505.0 L350.8,507.0 L351.3,509.0 L351.5,511.0 L351.7,513.0 L351.9,515.0 L352.3,517.0 L352.6,519.0 L352.5,521.0 L351.9,523.0 L351.1,525.0 L350.4,527.0 L350.0,529.0 L349.7,531.0 L349.4,533.0 L348.9,535.0 L348.6,537.0 L348.6,539.0 L348.7,541.0 L348.7,543.0 L348.4,545.0 L347.9,547.0 L347.6,549.0 L347.9,551.0 L348.4,553.0 L348.9,555.0 L354.5,557.2 L364.6,559.2 L376.9,560.2 L389.3,559.2 L399.4,557.2 L405.0,555.0 L403.6,553.0 L402.4,551.0 L401.9,549.0 L401.9,547.0 L401.9,545.0 L401.5,543.0 L401.0,541.0 L400.9,539.0 L401.2,537.0 L401.4,535.0 L401.2,533.0 L400.9,531.0 L401.0,529.0 L401.3,527.0 L401.2,525.0 L400.3,523.0 L399.0,521.0 L398.8,519.0 L399.9,517.0 L401.5,515.0 L401.9,513.0 L400.5,511.0 L398.6,509.0 L397.8,507.0 L398.6,505.0 L400.2,503.0 L400.9,501.0 L400.2,499.0 L399.0,497.0 L398.3,495.0 L398.8,493.0 L399.7,491.0 L400.5,489.0 L400.8,487.0 L400.7,485.0 L399.9,483.0 L398.6,481.0 L397.4,479.0 L397.1,477.0 L398.0,475.0 L399.4,473.0 L400.0,471.0 L399.1,469.0 L397.8,467.0 L397.3,465.0 L398.5,463.0 L400.1,461.0 L400.7,459.0 L399.6,457.0 L397.7,455.0 L396.6,453.0 L396.7,451.0 L397.4,449.0 L397.6,447.0 L397.2,445.0 L396.8,443.0 L396.9,441.0 L397.2,439.0 L397.2,437.0 L396.7,435.0 L396.2,433.0 L396.2,431.0 L396.5,429.0 L396.5,427.0 L395.8,425.0 L395.1,423.0 L394.8,421.0 L395.1,419.0 L395.2,417.0 L394.8,415.0 L394.1,413.0 L393.7,411.0 L393.6,409.0 L393.2,407.0 L391.8,405.0 L390.1,403.0 L389.2,401.0 L389.6,399.0 L390.5,397.0 L390.4,395.0 L388.7,393.0 L386.3,391.0 L384.9,389.0 L385.0,387.0 L385.6,385.0 L385.2,383.0 L383.3,381.0 L380.7,379.0 L378.9,377.0 L378.3,375.0 L378.5,373.0 L378.5,371.0 L378.2,369.0 L377.4,367.0 L376.1,365.0 L374.4,363.0 L372.5,361.0 L371.4,359.0 L371.3,357.0 L371.5,355.0 L370.7,353.0 L368.5,351.0 L365.6,349.0 L363.7,347.0 L363.2,345.0 L362.8,343.0 L361.3,341.0 L358.3,339.0 L354.7,337.0 L351.9,335.0 L350.4,333.0 L349.8,331.0 L348.7,329.0 L346.9,327.0 L345.1,325.0 L343.8,323.0 L343.0,321.0 L342.0,319.0 L340.7,317.0 L339.5,315.0 L338.9,313.0 L338.5,311.0 L337.7,309.0 L336.4,307.0 L335.0,305.0 L334.4,303.0 L334.3,301.0 L334.1,299.0 L333.2,297.0 L331.8,295.0 L330.6,293.0 L330.0,291.0 L329.4,289.0 L328.0,287.0 L326.1,285.0 L324.9,283.0 L325.1,281.0 L325.9,279.0 L326.1,277.0 L325.0,275.0 L323.4,273.0 L322.8,271.0 L323.8,269.0 L325.2,267.0 L325.6,265.0 L324.3,263.0 L322.2,261.0 L320.8,259.0 L320.5,257.0 L321.0,255.0 L321.5,253.0 L321.6,251.0 L321.5,249.0 L321.1,247.0 L320.5,245.0 L320.1,243.0 L320.2,241.0 L321.3,239.0 L322.6,237.0 L323.0,235.0 L322.0,233.0 L320.4,231.0 L319.9,229.0 L321.3,227.0 L323.4,225.0 L324.7,223.0 L324.1,221.0 L322.4,219.0 L321.4,217.0 L321.8,215.0 L322.9,213.0 L323.5,211.0 L323.3,209.0 L322.8,207.0 L322.8,205.0 L323.3,203.0 L323.8,201.0 L324.1,199.0 L324.2,197.0 L324.6,195.0 L325.0,193.0 L324.8,191.0 L323.9,189.0 L319.4,187.4 L311.2,186.1 L301.2,185.6 L292.2,186.0 L283.1,187.6Z"/></clipPath><path d="M278.6,189.0 L277.9,191.0 L277.7,193.0 L278.2,195.0 L279.0,197.0 L279.4,199.0 L278.9,201.0 L277.8,203.0 L276.9,205.0 L276.7,207.0 L277.2,209.0 L277.7,211.0 L277.5,213.0 L276.7,215.0 L275.9,217.0 L275.8,219.0 L276.4,221.0 L277.2,223.0 L277.5,225.0 L277.0,227.0 L276.2,229.0 L275.9,231.0 L276.6,233.0 L277.9,235.0 L278.8,237.0 L278.9,239.0 L278.3,241.0 L277.6,243.0 L277.3,245.0 L277.6,247.0 L278.0,249.0 L278.0,251.0 L277.8,253.0 L277.9,255.0 L278.7,257.0 L280.4,259.0 L282.3,261.0 L283.9,263.0 L284.9,265.0 L285.4,267.0 L285.8,269.0 L286.2,271.0 L286.6,273.0 L286.9,275.0 L287.1,277.0 L287.5,279.0 L288.3,281.0 L289.7,283.0 L291.3,285.0 L292.7,287.0 L294.0,289.0 L295.4,291.0 L297.1,293.0 L298.9,295.0 L300.7,297.0 L302.0,299.0 L303.0,301.0 L304.3,303.0 L306.1,305.0 L308.3,307.0 L310.2,309.0 L311.5,311.0 L312.2,313.0 L312.9,315.0 L314.1,317.0 L316.0,319.0 L318.1,321.0 L319.7,323.0 L320.7,325.0 L321.8,327.0 L323.4,329.0 L325.8,331.0 L328.5,333.0 L330.6,335.0 L331.8,337.0 L332.6,339.0 L333.9,341.0 L336.3,343.0 L339.3,345.0 L341.7,347.0 L343.0,349.0 L343.5,351.0 L343.8,353.0 L344.6,355.0 L345.8,357.0 L347.1,359.0 L347.6,361.0 L347.4,363.0 L347.2,365.0 L347.6,367.0 L349.0,369.0 L350.9,371.0 L352.7,373.0 L353.8,375.0 L354.3,377.0 L354.6,379.0 L355.1,381.0 L355.7,383.0 L355.9,385.0 L355.5,387.0 L354.9,389.0 L354.4,391.0 L354.6,393.0 L355.3,395.0 L356.3,397.0 L357.1,399.0 L357.7,401.0 L358.3,403.0 L358.7,405.0 L359.1,407.0 L359.1,409.0 L358.7,411.0 L358.2,413.0 L357.9,415.0 L358.0,417.0 L358.1,419.0 L358.1,421.0 L357.7,423.0 L357.2,425.0 L357.1,427.0 L357.3,429.0 L357.6,431.0 L357.6,433.0 L357.0,435.0 L356.4,437.0 L356.2,439.0 L356.8,441.0 L357.6,443.0 L358.0,445.0 L357.6,447.0 L356.6,449.0 L355.7,451.0 L355.6,453.0 L356.0,455.0 L356.5,457.0 L356.4,459.0 L355.7,461.0 L354.9,463.0 L354.8,465.0 L355.4,467.0 L356.1,469.0 L356.1,471.0 L355.1,473.0 L353.6,475.0 L352.7,477.0 L352.7,479.0 L353.5,481.0 L354.3,483.0 L354.6,485.0 L354.3,487.0 L354.0,489.0 L354.1,491.0 L354.6,493.0 L354.7,495.0 L354.1,497.0 L352.7,499.0 L351.3,501.0 L350.4,503.0 L350.3,505.0 L350.8,507.0 L351.3,509.0 L351.5,511.0 L351.7,513.0 L351.9,515.0 L352.3,517.0 L352.6,519.0 L352.5,521.0 L351.9,523.0 L351.1,525.0 L350.4,527.0 L350.0,529.0 L349.7,531.0 L349.4,533.0 L348.9,535.0 L348.6,537.0 L348.6,539.0 L348.7,541.0 L348.7,543.0 L348.4,545.0 L347.9,547.0 L347.6,549.0 L347.9,551.0 L348.4,553.0 L348.9,555.0 L354.5,557.2 L364.6,559.2 L376.9,560.2 L389.3,559.2 L399.4,557.2 L405.0,555.0 L403.6,553.0 L402.4,551.0 L401.9,549.0 L401.9,547.0 L401.9,545.0 L401.5,543.0 L401.0,541.0 L400.9,539.0 L401.2,537.0 L401.4,535.0 L401.2,533.0 L400.9,531.0 L401.0,529.0 L401.3,527.0 L401.2,525.0 L400.3,523.0 L399.0,521.0 L398.8,519.0 L399.9,517.0 L401.5,515.0 L401.9,513.0 L400.5,511.0 L398.6,509.0 L397.8,507.0 L398.6,505.0 L400.2,503.0 L400.9,501.0 L400.2,499.0 L399.0,497.0 L398.3,495.0 L398.8,493.0 L399.7,491.0 L400.5,489.0 L400.8,487.0 L400.7,485.0 L399.9,483.0 L398.6,481.0 L397.4,479.0 L397.1,477.0 L398.0,475.0 L399.4,473.0 L400.0,471.0 L399.1,469.0 L397.8,467.0 L397.3,465.0 L398.5,463.0 L400.1,461.0 L400.7,459.0 L399.6,457.0 L397.7,455.0 L396.6,453.0 L396.7,451.0 L397.4,449.0 L397.6,447.0 L397.2,445.0 L396.8,443.0 L396.9,441.0 L397.2,439.0 L397.2,437.0 L396.7,435.0 L396.2,433.0 L396.2,431.0 L396.5,429.0 L396.5,427.0 L395.8,425.0 L395.1,423.0 L394.8,421.0 L395.1,419.0 L395.2,417.0 L394.8,415.0 L394.1,413.0 L393.7,411.0 L393.6,409.0 L393.2,407.0 L391.8,405.0 L390.1,403.0 L389.2,401.0 L389.6,399.0 L390.5,397.0 L390.4,395.0 L388.7,393.0 L386.3,391.0 L384.9,389.0 L385.0,387.0 L385.6,385.0 L385.2,383.0 L383.3,381.0 L380.7,379.0 L378.9,377.0 L378.3,375.0 L378.5,373.0 L378.5,371.0 L378.2,369.0 L377.4,367.0 L376.1,365.0 L374.4,363.0 L372.5,361.0 L371.4,359.0 L371.3,357.0 L371.5,355.0 L370.7,353.0 L368.5,351.0 L365.6,349.0 L363.7,347.0 L363.2,345.0 L362.8,343.0 L361.3,341.0 L358.3,339.0 L354.7,337.0 L351.9,335.0 L350.4,333.0 L349.8,331.0 L348.7,329.0 L346.9,327.0 L345.1,325.0 L343.8,323.0 L343.0,321.0 L342.0,319.0 L340.7,317.0 L339.5,315.0 L338.9,313.0 L338.5,311.0 L337.7,309.0 L336.4,307.0 L335.0,305.0 L334.4,303.0 L334.3,301.0 L334.1,299.0 L333.2,297.0 L331.8,295.0 L330.6,293.0 L330.0,291.0 L329.4,289.0 L328.0,287.0 L326.1,285.0 L324.9,283.0 L325.1,281.0 L325.9,279.0 L326.1,277.0 L325.0,275.0 L323.4,273.0 L322.8,271.0 L323.8,269.0 L325.2,267.0 L325.6,265.0 L324.3,263.0 L322.2,261.0 L320.8,259.0 L320.5,257.0 L321.0,255.0 L321.5,253.0 L321.6,251.0 L321.5,249.0 L321.1,247.0 L320.5,245.0 L320.1,243.0 L320.2,241.0 L321.3,239.0 L322.6,237.0 L323.0,235.0 L322.0,233.0 L320.4,231.0 L319.9,229.0 L321.3,227.0 L323.4,225.0 L324.7,223.0 L324.1,221.0 L322.4,219.0 L321.4,217.0 L321.8,215.0 L322.9,213.0 L323.5,211.0 L323.3,209.0 L322.8,207.0 L322.8,205.0 L323.3,203.0 L323.8,201.0 L324.1,199.0 L324.2,197.0 L324.6,195.0 L325.0,193.0 L324.8,191.0 L323.9,189.0 L319.4,187.4 L311.2,186.1 L301.2,185.6 L292.2,186.0 L283.1,187.6Z" fill="#c73e40"/><path d="M276.6,189.0 L275.2,191.0 L274.2,193.0 L274.7,195.0 L276.1,197.0 L277.0,199.0 L276.0,201.0 L274.1,203.0 L273.0,205.0 L273.6,207.0 L274.9,209.0 L275.3,211.0 L274.0,213.0 L272.5,215.0 L272.4,217.0 L274.1,219.0 L275.6,221.0 L275.5,223.0 L273.7,225.0 L271.9,227.0 L271.6,229.0 L272.9,231.0 L274.4,233.0 L275.3,235.0 L275.6,237.0 L275.8,239.0 L275.9,241.0 L275.6,243.0 L274.8,245.0 L274.0,247.0 L274.0,249.0 L274.7,251.0 L275.2,253.0 L275.3,255.0 L275.5,257.0 L276.7,259.0 L279.0,261.0 L281.2,263.0 L282.3,265.0 L282.3,267.0 L282.5,269.0 L283.7,271.0 L285.0,273.0 L285.1,275.0 L283.8,277.0 L282.5,279.0 L283.2,281.0 L286.1,283.0 L289.4,285.0 L291.2,287.0 L291.5,289.0 L291.8,291.0 L293.7,293.0 L296.5,295.0 L298.7,297.0 L299.2,299.0 L299.0,301.0 L300.0,303.0 L302.7,305.0 L306.0,307.0 L308.0,309.0 L308.4,311.0 L308.3,313.0 L309.1,315.0 L311.2,317.0 L313.8,319.0 L315.9,321.0 L317.2,323.0 L318.0,325.0 L318.9,327.0 L320.1,329.0 L321.7,331.0 L324.1,333.0 L326.8,335.0 L329.3,337.0 L330.9,339.0 L332.0,341.0 L333.4,343.0 L335.8,345.0 L338.5,347.0 L340.4,349.0 L340.9,351.0 L340.4,353.0 L340.6,355.0 L342.1,357.0 L344.3,359.0 L345.4,361.0 L344.9,363.0 L343.7,365.0 L343.6,367.0 L345.5,369.0 L348.6,371.0 L351.0,373.0 L351.8,375.0 L351.4,377.0 L350.9,379.0 L351.0,381.0 L351.7,383.0 L352.3,385.0 L352.5,387.0 L352.4,389.0 L352.2,391.0 L352.3,393.0 L352.6,395.0 L353.3,397.0 L354.0,399.0 L354.7,401.0 L355.1,403.0 L355.3,405.0 L355.5,407.0 L355.8,409.0 L356.0,411.0 L355.7,413.0 L355.1,415.0 L354.5,417.0 L354.5,419.0 L355.0,421.0 L355.4,423.0 L355.3,425.0 L354.8,427.0 L354.2,429.0 L353.7,431.0 L353.4,433.0 L353.1,435.0 L353.0,437.0 L353.6,439.0 L354.6,441.0 L355.6,443.0 L355.6,445.0 L354.6,447.0 L353.3,449.0 L352.6,451.0 L352.6,453.0 L352.9,455.0 L352.9,457.0 L352.6,459.0 L352.5,461.0 L352.6,463.0 L352.7,465.0 L352.6,467.0 L352.3,469.0 L352.2,471.0 L352.2,473.0 L351.9,475.0 L351.1,477.0 L350.1,479.0 L349.6,481.0 L349.9,483.0 L350.7,485.0 L351.1,487.0 L351.1,489.0 L351.3,491.0 L352.0,493.0 L352.5,495.0 L352.0,497.0 L350.1,499.0 L347.8,501.0 L346.6,503.0 L346.9,505.0 L351.2,507.0 L352.1,509.0 L352.5,511.0 L353.0,513.0 L354.2,515.0 L355.6,517.0 L356.0,519.0 L355.4,521.0 L354.7,523.0 L355.1,525.0 L356.3,527.0 L357.0,529.0 L356.2,531.0 L354.5,533.0 L353.5,535.0 L354.1,537.0 L355.9,539.0 L357.1,541.0 L356.8,543.0 L355.7,545.0 L355.2,547.0 L355.8,549.0 L356.6,551.0 L356.8,553.0 L356.2,555.0 L356.2,563.0 L345.9,563.0 L345.9,555.0 L345.4,553.0 L344.9,551.0 L344.6,549.0 L344.9,547.0 L345.4,545.0 L345.7,543.0 L345.7,541.0 L345.6,539.0 L345.6,537.0 L345.9,535.0 L346.4,533.0 L346.7,531.0 L347.0,529.0 L347.4,527.0 L348.1,525.0 L348.9,523.0 L349.5,521.0 L349.6,519.0 L349.3,517.0 L348.9,515.0 L348.7,513.0 L348.5,511.0 L348.3,509.0 L347.8,507.0 L347.3,505.0 L347.4,503.0 L348.3,501.0 L349.7,499.0 L351.1,497.0 L351.7,495.0 L351.6,493.0 L351.1,491.0 L351.0,489.0 L351.3,487.0 L351.6,485.0 L351.3,483.0 L350.5,481.0 L349.7,479.0 L349.7,477.0 L350.6,475.0 L352.1,473.0 L353.1,471.0 L353.1,469.0 L352.4,467.0 L351.8,465.0 L351.9,463.0 L352.7,461.0 L353.4,459.0 L353.5,457.0 L353.0,455.0 L352.6,453.0 L352.7,451.0 L353.6,449.0 L354.6,447.0 L355.0,445.0 L354.6,443.0 L353.8,441.0 L353.2,439.0 L353.4,437.0 L354.0,435.0 L354.6,433.0 L354.6,431.0 L354.3,429.0 L354.1,427.0 L354.2,425.0 L354.7,423.0 L355.1,421.0 L355.1,419.0 L355.0,417.0 L354.9,415.0 L355.2,413.0 L355.7,411.0 L356.1,409.0 L356.1,407.0 L355.7,405.0 L355.3,403.0 L354.7,401.0 L354.1,399.0 L353.3,397.0 L352.3,395.0 L351.6,393.0 L351.4,391.0 L351.9,389.0 L352.5,387.0 L352.9,385.0 L352.7,383.0 L352.1,381.0 L351.6,379.0 L351.3,377.0 L350.8,375.0 L349.7,373.0 L347.9,371.0 L346.0,369.0 L344.6,367.0 L344.2,365.0 L344.4,363.0 L344.6,361.0 L344.1,359.0 L342.8,357.0 L341.6,355.0 L340.8,353.0 L340.5,351.0 L340.0,349.0 L338.7,347.0 L336.3,345.0 L333.3,343.0 L330.9,341.0 L329.6,339.0 L328.8,337.0 L327.6,335.0 L325.5,333.0 L322.8,331.0 L320.4,329.0 L318.8,327.0 L317.7,325.0 L316.7,323.0 L315.1,321.0 L313.0,319.0 L311.1,317.0 L309.9,315.0 L309.2,313.0 L308.5,311.0 L307.2,309.0 L305.3,307.0 L303.1,305.0 L301.3,303.0 L300.0,301.0 L299.0,299.0 L297.7,297.0 L295.9,295.0 L294.1,293.0 L292.4,291.0 L291.0,289.0 L289.7,287.0 L288.3,285.0 L286.7,283.0 L285.3,281.0 L284.5,279.0 L284.1,277.0 L283.9,275.0 L283.6,273.0 L283.2,271.0 L282.8,269.0 L282.4,267.0 L281.9,265.0 L280.9,263.0 L279.3,261.0 L277.4,259.0 L275.7,257.0 L274.9,255.0 L274.8,253.0 L275.0,251.0 L275.0,249.0 L274.6,247.0 L274.3,245.0 L274.6,243.0 L275.3,241.0 L275.9,239.0 L275.8,237.0 L274.9,235.0 L273.6,233.0 L272.9,231.0 L273.2,229.0 L274.0,227.0 L274.5,225.0 L274.2,223.0 L273.4,221.0 L272.8,219.0 L272.9,217.0 L273.7,215.0 L274.5,213.0 L274.7,211.0 L274.2,209.0 L273.7,207.0 L273.9,205.0 L274.8,203.0 L275.9,201.0 L276.4,199.0 L276.0,197.0 L275.2,195.0 L274.7,193.0 L274.9,191.0 L275.6,189.0Z" fill="#ab2d2e" clip-path="url(#cc1)"/><path d="M313.0,189.0 L312.7,191.0 L312.0,193.0 L311.8,195.0 L312.2,197.0 L312.4,199.0 L312.0,201.0 L311.3,203.0 L311.1,205.0 L311.7,207.0 L312.4,209.0 L312.4,211.0 L311.4,213.0 L309.9,215.0 L308.8,217.0 L308.9,219.0 L310.3,221.0 L311.8,223.0 L311.9,225.0 L310.0,227.0 L307.8,229.0 L307.5,231.0 L309.5,233.0 L311.8,235.0 L312.0,237.0 L309.9,239.0 L308.0,241.0 L308.2,243.0 L309.8,245.0 L310.5,247.0 L309.3,249.0 L307.7,251.0 L307.5,253.0 L308.4,255.0 L309.4,257.0 L310.0,259.0 L311.0,261.0 L313.0,263.0 L314.7,265.0 L314.5,267.0 L312.7,269.0 L311.3,271.0 L311.8,273.0 L313.3,275.0 L313.8,277.0 L313.0,279.0 L312.5,281.0 L313.6,283.0 L315.3,285.0 L316.2,287.0 L316.2,289.0 L316.9,291.0 L319.3,293.0 L322.2,295.0 L323.4,297.0 L322.9,299.0 L322.0,301.0 L322.4,303.0 L323.9,305.0 L324.8,307.0 L324.6,309.0 L324.4,311.0 L325.3,313.0 L326.9,315.0 L328.4,317.0 L329.1,319.0 L329.6,321.0 L329.8,323.0 L329.8,325.0 L329.8,327.0 L330.0,329.0 L330.8,331.0 L332.0,333.0 L332.6,335.0 L332.0,337.0 L331.8,339.0 L333.3,341.0 L336.1,343.0 L339.1,345.0 L341.2,347.0 L342.6,349.0 L343.9,351.0 L345.2,353.0 L347.3,355.0 L349.8,357.0 L351.7,359.0 L353.9,361.0 L356.8,363.0 L360.2,365.0 L363.9,367.0 L367.4,369.0 L370.6,371.0 L373.3,373.0 L375.9,375.0 L379.3,377.0 L381.3,379.0 L383.5,381.0 L384.9,383.0 L385.3,385.0 L385.5,387.0 L386.3,389.0 L387.5,391.0 L388.5,393.0 L388.9,395.0 L388.9,397.0 L389.0,399.0 L389.3,401.0 L390.1,403.0 L391.5,405.0 L393.2,407.0 L394.5,409.0 L394.9,411.0 L394.7,413.0 L394.7,415.0 L394.9,417.0 L395.0,419.0 L394.7,421.0 L394.7,423.0 L395.6,425.0 L396.7,427.0 L396.8,429.0 L395.7,431.0 L394.8,433.0 L395.6,435.0 L397.6,437.0 L398.9,439.0 L398.0,441.0 L396.3,443.0 L396.1,445.0 L397.2,447.0 L397.5,449.0 L395.5,451.0 L393.2,453.0 L393.4,455.0 L396.2,457.0 L398.7,459.0 L398.2,461.0 L395.3,463.0 L393.2,465.0 L393.8,467.0 L395.6,469.0 L396.0,471.0 L394.4,473.0 L392.3,475.0 L391.4,477.0 L391.5,479.0 L391.8,481.0 L391.8,483.0 L391.9,485.0 L391.9,487.0 L391.1,489.0 L389.7,491.0 L388.7,493.0 L389.3,495.0 L391.0,497.0 L391.8,499.0 L390.6,501.0 L388.3,503.0 L386.7,505.0 L386.8,507.0 L387.9,509.0 L388.6,511.0 L388.4,513.0 L388.0,515.0 L387.7,517.0 L387.6,519.0 L387.5,521.0 L387.4,523.0 L387.5,525.0 L387.7,527.0 L388.1,529.0 L388.5,531.0 L388.6,533.0 L388.3,535.0 L387.3,537.0 L386.4,539.0 L386.2,541.0 L386.7,543.0 L387.2,545.0 L387.1,547.0 L386.9,549.0 L387.6,551.0 L389.3,553.0 L391.0,555.0 L391.0,563.0 L408.0,563.0 L408.0,555.0 L406.6,553.0 L405.4,551.0 L404.9,549.0 L404.9,547.0 L404.9,545.0 L404.5,543.0 L404.0,541.0 L403.9,539.0 L404.2,537.0 L404.4,535.0 L404.2,533.0 L403.9,531.0 L404.0,529.0 L404.3,527.0 L404.2,525.0 L403.3,523.0 L402.0,521.0 L401.8,519.0 L402.9,517.0 L404.5,515.0 L404.9,513.0 L403.5,511.0 L401.6,509.0 L400.8,507.0 L401.6,505.0 L403.2,503.0 L403.9,501.0 L403.2,499.0 L402.0,497.0 L401.3,495.0 L401.8,493.0 L402.7,491.0 L403.5,489.0 L403.8,487.0 L403.7,485.0 L402.9,483.0 L401.6,481.0 L400.4,479.0 L400.1,477.0 L401.0,475.0 L402.4,473.0 L403.0,471.0 L402.1,469.0 L400.8,467.0 L400.3,465.0 L401.5,463.0 L403.1,461.0 L403.7,459.0 L402.6,457.0 L400.7,455.0 L399.6,453.0 L399.7,451.0 L400.4,449.0 L400.6,447.0 L400.2,445.0 L399.8,443.0 L399.9,441.0 L400.2,439.0 L400.2,437.0 L399.7,435.0 L399.2,433.0 L399.2,431.0 L399.5,429.0 L399.5,427.0 L398.8,425.0 L398.1,423.0 L397.8,421.0 L398.1,419.0 L398.2,417.0 L397.8,415.0 L397.1,413.0 L396.7,411.0 L396.6,409.0 L396.2,407.0 L394.8,405.0 L393.1,403.0 L392.2,401.0 L392.6,399.0 L393.5,397.0 L393.4,395.0 L391.7,393.0 L389.3,391.0 L387.9,389.0 L388.0,387.0 L388.6,385.0 L388.2,383.0 L386.3,381.0 L383.7,379.0 L381.9,377.0 L381.3,375.0 L381.5,373.0 L381.5,371.0 L381.2,369.0 L380.4,367.0 L379.1,365.0 L377.4,363.0 L375.5,361.0 L374.4,359.0 L374.3,357.0 L374.5,355.0 L373.7,353.0 L371.5,351.0 L368.6,349.0 L366.7,347.0 L366.2,345.0 L365.8,343.0 L364.3,341.0 L361.3,339.0 L357.7,337.0 L354.9,335.0 L353.4,333.0 L352.8,331.0 L351.7,329.0 L349.9,327.0 L348.1,325.0 L346.8,323.0 L346.0,321.0 L345.0,319.0 L343.7,317.0 L342.5,315.0 L341.9,313.0 L341.5,311.0 L340.7,309.0 L339.4,307.0 L338.0,305.0 L337.4,303.0 L337.3,301.0 L337.1,299.0 L336.2,297.0 L334.8,295.0 L333.6,293.0 L333.0,291.0 L332.4,289.0 L331.0,287.0 L329.1,285.0 L327.9,283.0 L328.1,281.0 L328.9,279.0 L329.1,277.0 L328.0,275.0 L326.4,273.0 L325.8,271.0 L326.8,269.0 L328.2,267.0 L328.6,265.0 L327.3,263.0 L325.2,261.0 L323.8,259.0 L323.5,257.0 L324.0,255.0 L324.5,253.0 L324.6,251.0 L324.5,249.0 L324.1,247.0 L323.5,245.0 L323.1,243.0 L323.2,241.0 L324.3,239.0 L325.6,237.0 L326.0,235.0 L325.0,233.0 L323.4,231.0 L322.9,229.0 L324.3,227.0 L326.4,225.0 L327.7,223.0 L327.1,221.0 L325.4,219.0 L324.4,217.0 L324.8,215.0 L325.9,213.0 L326.5,211.0 L326.3,209.0 L325.8,207.0 L325.8,205.0 L326.3,203.0 L326.8,201.0 L327.1,199.0 L327.2,197.0 L327.6,195.0 L328.0,193.0 L327.8,191.0 L326.9,189.0 L326.9,183.0 L313.0,183.0Z" fill="#ab2d2e" clip-path="url(#cc1)"/>
<path d="M282.0,553.5 L278.0,560.0 L278.5,563.9 L279.4,567.2 L278.0,571.1 L278.3,574.5 L280.9,576.5 L281.7,579.4 L282.4,582.4 L283.1,585.5 L284.0,588.7 L287.0,588.9 L288.8,590.6 L289.4,594.6 L291.4,596.0 L293.5,597.4 L295.9,597.4 L298.2,597.4 L299.8,601.2 L302.1,602.0 L304.5,600.1 L306.7,600.4 L308.9,600.0 L311.3,601.4 L313.7,601.8 L315.3,597.9 L317.3,596.9 L319.9,597.4 L321.9,595.9 L324.0,594.7 L324.9,591.1 L326.1,588.4 L329.2,588.5 L330.6,585.8 L331.0,582.4 L331.9,579.6 L332.3,576.4 L334.7,574.3 L335.8,571.2 L334.2,567.2 L334.6,563.8 L335.4,560.0 L331.4,553.5Z" fill="#ee891b"/><path d="M284.83,552.50 C278.84,553.72 284.40,557.53 284.83,559.79 C285.27,562.05 286.40,564.13 287.44,566.04 C288.48,567.95 289.87,569.77 291.08,571.25 C292.30,572.73 293.51,574.03 294.73,574.90 C295.94,575.76 297.16,575.68 298.38,576.46 C299.59,577.24 300.81,578.72 302.02,579.58 C303.24,580.45 304.36,580.80 305.67,581.67 C306.97,582.53 308.44,584.44 309.83,584.79 C311.22,585.14 312.96,584.27 314.00,583.75 C315.04,583.23 315.53,582.88 316.08,581.67 C316.64,580.45 316.99,578.19 317.33,576.46 C317.68,574.72 317.77,573.07 318.17,571.25 C318.57,569.43 319.30,567.26 319.73,565.52 C320.16,563.78 320.60,563.00 320.77,560.83 C320.94,558.66 326.76,553.89 320.77,552.50 C314.78,551.11 290.82,551.28 284.83,552.50Z" fill="#efa80b"/>
<path d="M363.0,189.0 L363.5,179.6 L366.6,166.0 L368.2,156.7 L370.2,154.1 L380.7,152.7 L392.1,155.1 L396.3,153.5 L398.4,156.7 L403.1,162.4 L404.1,174.4 L406.9,189.0 L406.3,192.1 L363.5,192.1Z" fill="#efa80b"/><path d="M383.8,153.3 L392.1,155.1 L396.3,153.5 L398.4,156.7 L403.1,162.4 L404.1,174.4 L406.9,189.0 L406.3,192.1 L403.1,192.1 L402.5,189.0 L399.4,183.8 L397.9,177.5 L394.2,171.2 L393.2,164.0 L390.6,157.2Z" fill="#ee891b"/>
<clipPath id="cc2"><path d="M363.7,190.0 L363.8,192.0 L363.4,194.0 L363.0,196.0 L363.2,198.0 L363.6,200.0 L363.8,202.0 L363.5,204.0 L363.1,206.0 L363.1,208.0 L363.5,210.0 L363.5,212.0 L362.6,214.0 L361.0,216.0 L360.1,218.0 L360.6,220.0 L361.9,222.0 L363.2,224.0 L363.4,226.0 L362.8,228.0 L361.9,230.0 L361.4,232.0 L361.3,234.0 L361.5,236.0 L362.0,238.0 L362.5,240.0 L362.5,242.0 L361.7,244.0 L360.2,246.0 L359.1,248.0 L359.1,250.0 L360.1,252.0 L361.0,254.0 L360.9,256.0 L360.1,258.0 L359.6,260.0 L360.0,262.0 L360.9,264.0 L361.1,266.0 L360.2,268.0 L358.8,270.0 L357.8,272.0 L357.7,274.0 L358.0,276.0 L358.2,278.0 L358.0,280.0 L357.4,282.0 L356.4,284.0 L355.2,286.0 L354.2,288.0 L354.1,290.0 L354.8,292.0 L355.4,294.0 L354.8,296.0 L352.5,298.0 L349.8,300.0 L347.9,302.0 L347.7,304.0 L348.4,306.0 L348.6,308.0 L347.7,310.0 L346.0,312.0 L344.5,314.0 L343.4,316.0 L342.5,318.0 L341.4,320.0 L340.2,322.0 L339.1,324.0 L337.9,326.0 L336.3,328.0 L334.4,330.0 L332.0,332.0 L329.6,334.0 L327.0,336.0 L324.2,338.0 L321.2,340.0 L318.7,342.0 L317.6,344.0 L317.6,346.0 L317.7,348.0 L316.9,350.0 L315.0,352.0 L313.1,354.0 L312.0,356.0 L311.7,358.0 L311.5,360.0 L311.0,362.0 L310.0,364.0 L309.0,366.0 L307.9,368.0 L306.6,370.0 L305.0,372.0 L303.6,374.0 L302.9,376.0 L302.8,378.0 L302.6,380.0 L302.0,382.0 L301.0,384.0 L300.1,386.0 L299.4,388.0 L298.5,390.0 L297.3,392.0 L296.0,394.0 L295.4,396.0 L295.6,398.0 L295.7,400.0 L295.0,402.0 L293.3,404.0 L291.7,406.0 L291.0,408.0 L291.3,410.0 L291.8,412.0 L291.9,414.0 L291.6,416.0 L291.3,418.0 L291.2,420.0 L291.1,422.0 L290.6,424.0 L289.8,426.0 L289.3,428.0 L288.9,430.0 L288.6,432.0 L288.1,434.0 L287.6,436.0 L287.4,438.0 L287.5,440.0 L287.3,442.0 L286.4,444.0 L285.3,446.0 L285.0,448.0 L286.0,450.0 L287.6,452.0 L288.3,454.0 L287.4,456.0 L285.6,458.0 L284.0,460.0 L283.6,462.0 L284.0,464.0 L284.6,466.0 L284.8,468.0 L284.6,470.0 L284.0,472.0 L283.3,474.0 L282.7,476.0 L282.6,478.0 L283.3,480.0 L284.4,482.0 L285.0,484.0 L284.6,486.0 L283.6,488.0 L283.0,490.0 L283.3,492.0 L283.8,494.0 L283.6,496.0 L282.5,498.0 L281.2,500.0 L280.8,502.0 L281.7,504.0 L283.0,506.0 L283.7,508.0 L283.3,510.0 L282.5,512.0 L281.9,514.0 L281.7,516.0 L282.0,518.0 L282.6,520.0 L283.3,522.0 L283.6,524.0 L282.9,526.0 L281.2,528.0 L279.5,530.0 L278.9,532.0 L279.6,534.0 L281.0,536.0 L281.6,538.0 L281.1,540.0 L280.1,542.0 L279.7,544.0 L280.0,546.0 L280.5,548.0 L280.4,550.0 L279.9,552.0 L279.4,554.0 L279.3,556.0 L284.6,558.2 L294.1,560.2 L305.8,561.2 L317.4,560.2 L326.9,558.2 L332.2,556.0 L332.3,554.0 L332.8,552.0 L332.7,550.0 L331.7,548.0 L330.5,546.0 L330.1,544.0 L330.7,542.0 L331.5,540.0 L331.6,538.0 L330.9,536.0 L329.9,534.0 L329.1,532.0 L328.9,530.0 L329.0,528.0 L329.2,526.0 L329.6,524.0 L329.9,522.0 L330.0,520.0 L329.7,518.0 L329.1,516.0 L328.8,514.0 L329.2,512.0 L330.2,510.0 L330.8,508.0 L330.4,506.0 L329.2,504.0 L328.2,502.0 L328.1,500.0 L328.9,498.0 L329.8,496.0 L330.0,494.0 L329.7,492.0 L329.5,490.0 L329.6,488.0 L329.9,486.0 L329.8,484.0 L329.2,482.0 L328.7,480.0 L328.9,478.0 L329.6,476.0 L329.9,474.0 L329.1,472.0 L327.8,470.0 L326.9,468.0 L327.5,466.0 L329.0,464.0 L330.2,462.0 L330.0,460.0 L328.6,458.0 L327.1,456.0 L326.5,454.0 L326.8,452.0 L327.5,450.0 L327.6,448.0 L327.1,446.0 L326.2,444.0 L325.5,442.0 L325.1,440.0 L325.0,438.0 L325.3,436.0 L325.9,434.0 L326.2,432.0 L325.9,430.0 L324.8,428.0 L323.5,426.0 L322.8,424.0 L322.9,422.0 L323.5,420.0 L323.5,418.0 L322.7,416.0 L321.6,414.0 L321.3,412.0 L322.0,410.0 L322.9,408.0 L323.2,406.0 L322.7,404.0 L322.1,402.0 L322.3,400.0 L323.3,398.0 L324.3,396.0 L324.4,394.0 L323.6,392.0 L323.0,390.0 L323.6,388.0 L325.3,386.0 L327.1,384.0 L328.1,382.0 L328.2,380.0 L328.3,378.0 L328.9,376.0 L330.2,374.0 L331.7,372.0 L332.9,370.0 L333.8,368.0 L334.6,366.0 L335.4,364.0 L336.0,362.0 L336.4,360.0 L337.1,358.0 L338.3,356.0 L339.9,354.0 L341.4,352.0 L342.2,350.0 L342.3,348.0 L342.6,346.0 L343.8,344.0 L345.8,342.0 L347.9,340.0 L349.6,338.0 L351.2,336.0 L353.1,334.0 L355.3,332.0 L357.6,330.0 L359.6,328.0 L361.5,326.0 L363.9,324.0 L367.0,322.0 L370.1,320.0 L372.2,318.0 L373.0,316.0 L373.2,314.0 L374.1,312.0 L376.4,310.0 L379.3,308.0 L381.3,306.0 L381.6,304.0 L381.0,302.0 L380.7,300.0 L381.9,298.0 L383.9,296.0 L385.9,294.0 L387.0,292.0 L387.1,290.0 L387.1,288.0 L387.5,286.0 L388.3,284.0 L389.5,282.0 L390.8,280.0 L392.2,278.0 L393.5,276.0 L394.5,274.0 L395.1,272.0 L395.6,270.0 L396.5,268.0 L397.9,266.0 L399.4,264.0 L400.2,262.0 L400.2,260.0 L400.1,258.0 L400.6,256.0 L401.6,254.0 L402.7,252.0 L403.0,250.0 L402.8,248.0 L402.9,246.0 L403.8,244.0 L405.2,242.0 L406.1,240.0 L405.8,238.0 L404.7,236.0 L404.0,234.0 L404.4,232.0 L405.5,230.0 L406.2,228.0 L405.8,226.0 L404.7,224.0 L404.0,222.0 L404.3,220.0 L405.2,218.0 L406.0,216.0 L406.3,214.0 L406.2,212.0 L406.1,210.0 L406.2,208.0 L406.1,206.0 L405.6,204.0 L405.2,202.0 L405.1,200.0 L405.6,198.0 L406.2,196.0 L406.2,194.0 L405.8,192.0 L405.3,190.0 L401.2,188.4 L393.7,187.1 L384.5,186.6 L376.2,187.0 L367.9,188.6Z"/></clipPath><path d="M363.7,190.0 L363.8,192.0 L363.4,194.0 L363.0,196.0 L363.2,198.0 L363.6,200.0 L363.8,202.0 L363.5,204.0 L363.1,206.0 L363.1,208.0 L363.5,210.0 L363.5,212.0 L362.6,214.0 L361.0,216.0 L360.1,218.0 L360.6,220.0 L361.9,222.0 L363.2,224.0 L363.4,226.0 L362.8,228.0 L361.9,230.0 L361.4,232.0 L361.3,234.0 L361.5,236.0 L362.0,238.0 L362.5,240.0 L362.5,242.0 L361.7,244.0 L360.2,246.0 L359.1,248.0 L359.1,250.0 L360.1,252.0 L361.0,254.0 L360.9,256.0 L360.1,258.0 L359.6,260.0 L360.0,262.0 L360.9,264.0 L361.1,266.0 L360.2,268.0 L358.8,270.0 L357.8,272.0 L357.7,274.0 L358.0,276.0 L358.2,278.0 L358.0,280.0 L357.4,282.0 L356.4,284.0 L355.2,286.0 L354.2,288.0 L354.1,290.0 L354.8,292.0 L355.4,294.0 L354.8,296.0 L352.5,298.0 L349.8,300.0 L347.9,302.0 L347.7,304.0 L348.4,306.0 L348.6,308.0 L347.7,310.0 L346.0,312.0 L344.5,314.0 L343.4,316.0 L342.5,318.0 L341.4,320.0 L340.2,322.0 L339.1,324.0 L337.9,326.0 L336.3,328.0 L334.4,330.0 L332.0,332.0 L329.6,334.0 L327.0,336.0 L324.2,338.0 L321.2,340.0 L318.7,342.0 L317.6,344.0 L317.6,346.0 L317.7,348.0 L316.9,350.0 L315.0,352.0 L313.1,354.0 L312.0,356.0 L311.7,358.0 L311.5,360.0 L311.0,362.0 L310.0,364.0 L309.0,366.0 L307.9,368.0 L306.6,370.0 L305.0,372.0 L303.6,374.0 L302.9,376.0 L302.8,378.0 L302.6,380.0 L302.0,382.0 L301.0,384.0 L300.1,386.0 L299.4,388.0 L298.5,390.0 L297.3,392.0 L296.0,394.0 L295.4,396.0 L295.6,398.0 L295.7,400.0 L295.0,402.0 L293.3,404.0 L291.7,406.0 L291.0,408.0 L291.3,410.0 L291.8,412.0 L291.9,414.0 L291.6,416.0 L291.3,418.0 L291.2,420.0 L291.1,422.0 L290.6,424.0 L289.8,426.0 L289.3,428.0 L288.9,430.0 L288.6,432.0 L288.1,434.0 L287.6,436.0 L287.4,438.0 L287.5,440.0 L287.3,442.0 L286.4,444.0 L285.3,446.0 L285.0,448.0 L286.0,450.0 L287.6,452.0 L288.3,454.0 L287.4,456.0 L285.6,458.0 L284.0,460.0 L283.6,462.0 L284.0,464.0 L284.6,466.0 L284.8,468.0 L284.6,470.0 L284.0,472.0 L283.3,474.0 L282.7,476.0 L282.6,478.0 L283.3,480.0 L284.4,482.0 L285.0,484.0 L284.6,486.0 L283.6,488.0 L283.0,490.0 L283.3,492.0 L283.8,494.0 L283.6,496.0 L282.5,498.0 L281.2,500.0 L280.8,502.0 L281.7,504.0 L283.0,506.0 L283.7,508.0 L283.3,510.0 L282.5,512.0 L281.9,514.0 L281.7,516.0 L282.0,518.0 L282.6,520.0 L283.3,522.0 L283.6,524.0 L282.9,526.0 L281.2,528.0 L279.5,530.0 L278.9,532.0 L279.6,534.0 L281.0,536.0 L281.6,538.0 L281.1,540.0 L280.1,542.0 L279.7,544.0 L280.0,546.0 L280.5,548.0 L280.4,550.0 L279.9,552.0 L279.4,554.0 L279.3,556.0 L284.6,558.2 L294.1,560.2 L305.8,561.2 L317.4,560.2 L326.9,558.2 L332.2,556.0 L332.3,554.0 L332.8,552.0 L332.7,550.0 L331.7,548.0 L330.5,546.0 L330.1,544.0 L330.7,542.0 L331.5,540.0 L331.6,538.0 L330.9,536.0 L329.9,534.0 L329.1,532.0 L328.9,530.0 L329.0,528.0 L329.2,526.0 L329.6,524.0 L329.9,522.0 L330.0,520.0 L329.7,518.0 L329.1,516.0 L328.8,514.0 L329.2,512.0 L330.2,510.0 L330.8,508.0 L330.4,506.0 L329.2,504.0 L328.2,502.0 L328.1,500.0 L328.9,498.0 L329.8,496.0 L330.0,494.0 L329.7,492.0 L329.5,490.0 L329.6,488.0 L329.9,486.0 L329.8,484.0 L329.2,482.0 L328.7,480.0 L328.9,478.0 L329.6,476.0 L329.9,474.0 L329.1,472.0 L327.8,470.0 L326.9,468.0 L327.5,466.0 L329.0,464.0 L330.2,462.0 L330.0,460.0 L328.6,458.0 L327.1,456.0 L326.5,454.0 L326.8,452.0 L327.5,450.0 L327.6,448.0 L327.1,446.0 L326.2,444.0 L325.5,442.0 L325.1,440.0 L325.0,438.0 L325.3,436.0 L325.9,434.0 L326.2,432.0 L325.9,430.0 L324.8,428.0 L323.5,426.0 L322.8,424.0 L322.9,422.0 L323.5,420.0 L323.5,418.0 L322.7,416.0 L321.6,414.0 L321.3,412.0 L322.0,410.0 L322.9,408.0 L323.2,406.0 L322.7,404.0 L322.1,402.0 L322.3,400.0 L323.3,398.0 L324.3,396.0 L324.4,394.0 L323.6,392.0 L323.0,390.0 L323.6,388.0 L325.3,386.0 L327.1,384.0 L328.1,382.0 L328.2,380.0 L328.3,378.0 L328.9,376.0 L330.2,374.0 L331.7,372.0 L332.9,370.0 L333.8,368.0 L334.6,366.0 L335.4,364.0 L336.0,362.0 L336.4,360.0 L337.1,358.0 L338.3,356.0 L339.9,354.0 L341.4,352.0 L342.2,350.0 L342.3,348.0 L342.6,346.0 L343.8,344.0 L345.8,342.0 L347.9,340.0 L349.6,338.0 L351.2,336.0 L353.1,334.0 L355.3,332.0 L357.6,330.0 L359.6,328.0 L361.5,326.0 L363.9,324.0 L367.0,322.0 L370.1,320.0 L372.2,318.0 L373.0,316.0 L373.2,314.0 L374.1,312.0 L376.4,310.0 L379.3,308.0 L381.3,306.0 L381.6,304.0 L381.0,302.0 L380.7,300.0 L381.9,298.0 L383.9,296.0 L385.9,294.0 L387.0,292.0 L387.1,290.0 L387.1,288.0 L387.5,286.0 L388.3,284.0 L389.5,282.0 L390.8,280.0 L392.2,278.0 L393.5,276.0 L394.5,274.0 L395.1,272.0 L395.6,270.0 L396.5,268.0 L397.9,266.0 L399.4,264.0 L400.2,262.0 L400.2,260.0 L400.1,258.0 L400.6,256.0 L401.6,254.0 L402.7,252.0 L403.0,250.0 L402.8,248.0 L402.9,246.0 L403.8,244.0 L405.2,242.0 L406.1,240.0 L405.8,238.0 L404.7,236.0 L404.0,234.0 L404.4,232.0 L405.5,230.0 L406.2,228.0 L405.8,226.0 L404.7,224.0 L404.0,222.0 L404.3,220.0 L405.2,218.0 L406.0,216.0 L406.3,214.0 L406.2,212.0 L406.1,210.0 L406.2,208.0 L406.1,206.0 L405.6,204.0 L405.2,202.0 L405.1,200.0 L405.6,198.0 L406.2,196.0 L406.2,194.0 L405.8,192.0 L405.3,190.0 L401.2,188.4 L393.7,187.1 L384.5,186.6 L376.2,187.0 L367.9,188.6Z" fill="#c73e40"/><path d="M361.4,190.0 L360.7,192.0 L359.5,194.0 L359.3,196.0 L359.8,198.0 L360.2,200.0 L360.4,202.0 L361.0,204.0 L361.9,206.0 L362.1,208.0 L361.0,210.0 L359.4,212.0 L358.1,214.0 L357.1,216.0 L356.5,218.0 L357.2,220.0 L359.3,222.0 L361.4,224.0 L361.6,226.0 L359.8,228.0 L358.0,230.0 L357.9,232.0 L358.7,234.0 L359.0,236.0 L358.8,238.0 L359.1,240.0 L359.6,242.0 L359.0,244.0 L356.9,246.0 L355.4,248.0 L355.9,250.0 L357.6,252.0 L358.2,254.0 L357.4,256.0 L356.9,258.0 L357.6,260.0 L358.5,262.0 L358.4,264.0 L357.2,266.0 L355.9,268.0 L354.8,270.0 L354.1,272.0 L354.1,274.0 L355.4,276.0 L356.9,278.0 L357.0,280.0 L355.0,282.0 L352.4,284.0 L351.0,286.0 L350.7,288.0 L351.0,290.0 L351.5,292.0 L352.2,294.0 L352.1,296.0 L350.1,298.0 L346.6,300.0 L344.3,302.0 L344.7,304.0 L346.4,306.0 L346.5,308.0 L344.4,310.0 L342.2,312.0 L341.2,314.0 L340.7,316.0 L339.5,318.0 L337.9,320.0 L336.9,322.0 L336.3,324.0 L335.0,326.0 L332.9,328.0 L331.1,330.0 L329.9,332.0 L328.1,334.0 L324.7,336.0 L320.5,338.0 L317.0,340.0 L315.0,342.0 L314.2,344.0 L314.2,346.0 L314.6,348.0 L314.6,350.0 L313.1,352.0 L310.4,354.0 L308.3,356.0 L308.3,358.0 L309.2,360.0 L308.8,362.0 L306.9,364.0 L305.1,366.0 L304.1,368.0 L303.2,370.0 L301.6,372.0 L300.2,374.0 L300.4,376.0 L301.2,378.0 L300.9,380.0 L298.9,382.0 L297.0,384.0 L296.5,386.0 L296.5,388.0 L295.6,390.0 L293.8,392.0 L292.7,394.0 L292.6,396.0 L292.8,398.0 L292.4,400.0 L291.6,402.0 L290.8,404.0 L289.8,406.0 L288.5,408.0 L287.7,410.0 L288.1,412.0 L289.1,414.0 L289.2,416.0 L288.3,418.0 L287.6,420.0 L287.6,422.0 L287.4,424.0 L286.5,426.0 L285.8,428.0 L286.3,430.0 L287.3,432.0 L286.9,434.0 L285.0,436.0 L283.2,438.0 L283.0,440.0 L283.3,442.0 L282.8,444.0 L281.9,446.0 L282.5,448.0 L284.5,450.0 L286.0,452.0 L285.4,454.0 L283.6,456.0 L282.0,458.0 L281.3,460.0 L280.8,462.0 L280.5,464.0 L281.0,466.0 L281.9,468.0 L282.0,470.0 L281.0,472.0 L279.9,474.0 L279.8,476.0 L280.2,478.0 L280.5,480.0 L280.8,482.0 L281.6,484.0 L282.3,486.0 L281.9,488.0 L280.4,490.0 L279.4,492.0 L279.6,494.0 L279.8,496.0 L278.8,498.0 L277.6,500.0 L278.3,502.0 L280.6,504.0 L282.1,506.0 L281.3,508.0 L279.3,510.0 L278.2,512.0 L278.2,514.0 L281.5,516.0 L282.0,518.0 L283.2,520.0 L285.0,522.0 L285.8,524.0 L284.7,526.0 L282.8,528.0 L281.9,530.0 L282.4,532.0 L283.3,534.0 L283.9,536.0 L284.3,538.0 L284.8,540.0 L284.6,542.0 L284.0,544.0 L284.0,546.0 L284.8,548.0 L285.4,550.0 L284.9,552.0 L283.9,554.0 L284.1,556.0 L284.1,564.0 L276.3,564.0 L276.3,556.0 L276.4,554.0 L276.9,552.0 L277.4,550.0 L277.5,548.0 L277.0,546.0 L276.7,544.0 L277.1,542.0 L278.1,540.0 L278.6,538.0 L278.0,536.0 L276.6,534.0 L275.9,532.0 L276.5,530.0 L278.2,528.0 L279.9,526.0 L280.6,524.0 L280.3,522.0 L279.6,520.0 L279.0,518.0 L278.7,516.0 L278.9,514.0 L279.5,512.0 L280.3,510.0 L280.7,508.0 L280.0,506.0 L278.7,504.0 L277.8,502.0 L278.2,500.0 L279.5,498.0 L280.6,496.0 L280.8,494.0 L280.3,492.0 L280.0,490.0 L280.6,488.0 L281.6,486.0 L282.0,484.0 L281.4,482.0 L280.3,480.0 L279.6,478.0 L279.7,476.0 L280.3,474.0 L281.0,472.0 L281.6,470.0 L281.8,468.0 L281.6,466.0 L281.0,464.0 L280.6,462.0 L281.0,460.0 L282.6,458.0 L284.4,456.0 L285.3,454.0 L284.6,452.0 L283.0,450.0 L282.0,448.0 L282.3,446.0 L283.4,444.0 L284.3,442.0 L284.5,440.0 L284.4,438.0 L284.6,436.0 L285.1,434.0 L285.6,432.0 L285.9,430.0 L286.3,428.0 L286.8,426.0 L287.6,424.0 L288.1,422.0 L288.2,420.0 L288.3,418.0 L288.6,416.0 L288.9,414.0 L288.8,412.0 L288.3,410.0 L288.0,408.0 L288.7,406.0 L290.3,404.0 L292.0,402.0 L292.7,400.0 L292.6,398.0 L292.4,396.0 L293.0,394.0 L294.3,392.0 L295.5,390.0 L296.4,388.0 L297.1,386.0 L298.0,384.0 L299.0,382.0 L299.6,380.0 L299.8,378.0 L299.9,376.0 L300.6,374.0 L302.0,372.0 L303.6,370.0 L304.9,368.0 L306.0,366.0 L307.0,364.0 L308.0,362.0 L308.5,360.0 L308.7,358.0 L309.0,356.0 L310.1,354.0 L312.0,352.0 L313.9,350.0 L314.7,348.0 L314.6,346.0 L314.6,344.0 L315.7,342.0 L318.2,340.0 L321.2,338.0 L324.0,336.0 L326.6,334.0 L329.0,332.0 L331.4,330.0 L333.3,328.0 L334.9,326.0 L336.1,324.0 L337.2,322.0 L338.4,320.0 L339.5,318.0 L340.4,316.0 L341.5,314.0 L343.0,312.0 L344.7,310.0 L345.6,308.0 L345.4,306.0 L344.7,304.0 L344.9,302.0 L346.8,300.0 L349.5,298.0 L351.8,296.0 L352.4,294.0 L351.8,292.0 L351.1,290.0 L351.2,288.0 L352.2,286.0 L353.4,284.0 L354.4,282.0 L355.0,280.0 L355.2,278.0 L355.0,276.0 L354.7,274.0 L354.8,272.0 L355.8,270.0 L357.2,268.0 L358.1,266.0 L357.9,264.0 L357.0,262.0 L356.6,260.0 L357.1,258.0 L357.9,256.0 L358.0,254.0 L357.1,252.0 L356.1,250.0 L356.1,248.0 L357.2,246.0 L358.7,244.0 L359.5,242.0 L359.5,240.0 L359.0,238.0 L358.5,236.0 L358.3,234.0 L358.4,232.0 L358.9,230.0 L359.8,228.0 L360.4,226.0 L360.2,224.0 L358.9,222.0 L357.6,220.0 L357.1,218.0 L358.0,216.0 L359.6,214.0 L360.5,212.0 L360.5,210.0 L360.1,208.0 L360.1,206.0 L360.5,204.0 L360.8,202.0 L360.6,200.0 L360.2,198.0 L360.0,196.0 L360.4,194.0 L360.8,192.0 L360.7,190.0Z" fill="#ab2d2e" clip-path="url(#cc2)"/><path d="M398.9,190.0 L400.2,192.0 L400.6,194.0 L400.5,196.0 L400.4,198.0 L399.8,200.0 L398.6,202.0 L398.6,204.0 L400.2,206.0 L401.4,208.0 L400.2,210.0 L397.7,212.0 L396.4,214.0 L396.6,216.0 L396.7,218.0 L396.6,220.0 L397.4,222.0 L398.7,224.0 L398.7,226.0 L397.2,228.0 L396.1,230.0 L396.0,232.0 L395.8,234.0 L394.8,236.0 L394.1,238.0 L394.6,240.0 L394.7,242.0 L393.3,244.0 L391.8,246.0 L391.9,248.0 L392.7,250.0 L392.2,252.0 L390.6,254.0 L389.3,256.0 L388.3,258.0 L386.8,260.0 L385.1,262.0 L385.1,264.0 L386.2,266.0 L386.1,268.0 L384.1,270.0 L382.4,272.0 L382.1,274.0 L382.2,276.0 L381.4,278.0 L380.5,280.0 L379.6,282.0 L377.9,284.0 L374.9,286.0 L373.2,288.0 L374.7,290.0 L377.5,292.0 L378.1,294.0 L375.8,296.0 L373.1,298.0 L371.6,300.0 L371.3,302.0 L371.2,304.0 L371.4,306.0 L370.9,308.0 L368.6,310.0 L365.9,312.0 L365.3,314.0 L366.8,316.0 L367.5,318.0 L365.5,320.0 L362.5,322.0 L360.9,324.0 L359.9,326.0 L357.5,328.0 L354.0,330.0 L350.8,332.0 L348.6,334.0 L346.9,336.0 L345.8,338.0 L345.6,340.0 L345.1,342.0 L342.7,344.0 L339.8,346.0 L338.9,348.0 L340.1,350.0 L340.2,352.0 L337.7,354.0 L334.5,356.0 L332.7,358.0 L332.0,360.0 L331.5,362.0 L331.7,364.0 L332.8,366.0 L333.1,368.0 L331.1,370.0 L328.1,372.0 L326.4,374.0 L325.8,376.0 L324.8,378.0 L323.4,380.0 L322.9,382.0 L322.8,384.0 L321.8,386.0 L320.1,388.0 L319.7,390.0 L320.9,392.0 L321.7,394.0 L320.9,396.0 L319.8,398.0 L319.6,400.0 L319.3,402.0 L317.7,404.0 L316.2,406.0 L316.5,408.0 L317.9,410.0 L318.7,412.0 L319.0,414.0 L319.7,416.0 L320.1,418.0 L319.2,420.0 L317.8,422.0 L318.3,424.0 L320.1,426.0 L320.7,428.0 L319.5,430.0 L318.5,432.0 L319.1,434.0 L320.2,436.0 L320.4,438.0 L320.4,440.0 L320.9,442.0 L321.2,444.0 L320.6,446.0 L319.9,448.0 L320.2,450.0 L320.5,452.0 L319.7,454.0 L319.2,456.0 L320.8,458.0 L323.2,460.0 L323.4,462.0 L321.2,464.0 L319.4,466.0 L319.8,468.0 L321.1,470.0 L321.7,472.0 L321.5,474.0 L320.8,476.0 L319.6,478.0 L318.5,480.0 L319.3,482.0 L322.1,484.0 L323.8,486.0 L322.5,488.0 L320.1,490.0 L319.6,492.0 L320.6,494.0 L320.8,496.0 L319.8,498.0 L319.0,500.0 L319.1,502.0 L319.3,504.0 L319.4,506.0 L320.4,508.0 L321.7,510.0 L321.6,512.0 L320.0,514.0 L319.2,516.0 L320.0,518.0 L320.9,520.0 L320.3,522.0 L319.4,524.0 L319.4,526.0 L319.7,528.0 L319.4,530.0 L319.2,532.0 L320.3,534.0 L321.8,536.0 L321.4,538.0 L320.0,540.0 L319.7,542.0 L321.1,544.0 L322.0,546.0 L321.5,548.0 L321.0,550.0 L321.2,552.0 L321.5,554.0 L321.9,556.0 L321.9,564.0 L335.2,564.0 L335.2,556.0 L335.3,554.0 L335.8,552.0 L335.7,550.0 L334.7,548.0 L333.5,546.0 L333.1,544.0 L333.7,542.0 L334.5,540.0 L334.6,538.0 L333.9,536.0 L332.9,534.0 L332.1,532.0 L331.9,530.0 L332.0,528.0 L332.2,526.0 L332.6,524.0 L332.9,522.0 L333.0,520.0 L332.7,518.0 L332.1,516.0 L331.8,514.0 L332.2,512.0 L333.2,510.0 L333.8,508.0 L333.4,506.0 L332.2,504.0 L331.2,502.0 L331.1,500.0 L331.9,498.0 L332.8,496.0 L333.0,494.0 L332.7,492.0 L332.5,490.0 L332.6,488.0 L332.9,486.0 L332.8,484.0 L332.2,482.0 L331.7,480.0 L331.9,478.0 L332.6,476.0 L332.9,474.0 L332.1,472.0 L330.8,470.0 L329.9,468.0 L330.5,466.0 L332.0,464.0 L333.2,462.0 L333.0,460.0 L331.6,458.0 L330.1,456.0 L329.5,454.0 L329.8,452.0 L330.5,450.0 L330.6,448.0 L330.1,446.0 L329.2,444.0 L328.5,442.0 L328.1,440.0 L328.0,438.0 L328.3,436.0 L328.9,434.0 L329.2,432.0 L328.9,430.0 L327.8,428.0 L326.5,426.0 L325.8,424.0 L325.9,422.0 L326.5,420.0 L326.5,418.0 L325.7,416.0 L324.6,414.0 L324.3,412.0 L325.0,410.0 L325.9,408.0 L326.2,406.0 L325.7,404.0 L325.1,402.0 L325.3,400.0 L326.3,398.0 L327.3,396.0 L327.4,394.0 L326.6,392.0 L326.0,390.0 L326.6,388.0 L328.3,386.0 L330.1,384.0 L331.1,382.0 L331.2,380.0 L331.3,378.0 L331.9,376.0 L333.2,374.0 L334.7,372.0 L335.9,370.0 L336.8,368.0 L337.6,366.0 L338.4,364.0 L339.0,362.0 L339.4,360.0 L340.1,358.0 L341.3,356.0 L342.9,354.0 L344.4,352.0 L345.2,350.0 L345.3,348.0 L345.6,346.0 L346.8,344.0 L348.8,342.0 L350.9,340.0 L352.6,338.0 L354.2,336.0 L356.1,334.0 L358.3,332.0 L360.6,330.0 L362.6,328.0 L364.5,326.0 L366.9,324.0 L370.0,322.0 L373.1,320.0 L375.2,318.0 L376.0,316.0 L376.2,314.0 L377.1,312.0 L379.4,310.0 L382.3,308.0 L384.3,306.0 L384.6,304.0 L384.0,302.0 L383.7,300.0 L384.9,298.0 L386.9,296.0 L388.9,294.0 L390.0,292.0 L390.1,290.0 L390.1,288.0 L390.5,286.0 L391.3,284.0 L392.5,282.0 L393.8,280.0 L395.2,278.0 L396.5,276.0 L397.5,274.0 L398.1,272.0 L398.6,270.0 L399.5,268.0 L400.9,266.0 L402.4,264.0 L403.2,262.0 L403.2,260.0 L403.1,258.0 L403.6,256.0 L404.6,254.0 L405.7,252.0 L406.0,250.0 L405.8,248.0 L405.9,246.0 L406.8,244.0 L408.2,242.0 L409.1,240.0 L408.8,238.0 L407.7,236.0 L407.0,234.0 L407.4,232.0 L408.5,230.0 L409.2,228.0 L408.8,226.0 L407.7,224.0 L407.0,222.0 L407.3,220.0 L408.2,218.0 L409.0,216.0 L409.3,214.0 L409.2,212.0 L409.1,210.0 L409.2,208.0 L409.1,206.0 L408.6,204.0 L408.2,202.0 L408.1,200.0 L408.6,198.0 L409.2,196.0 L409.2,194.0 L408.8,192.0 L408.3,190.0 L408.3,184.0 L398.9,184.0Z" fill="#ab2d2e" clip-path="url(#cc2)"/>
<rect x="337.6" y="536.4" width="82.3" height="88.1" fill="none" stroke="#13518d" stroke-width="2.7"/>
<path d="M378.6,628 V657" stroke="#222" stroke-width="2" fill="none"/>
<path d="M1108,350 L1100,440 L1099,500 L1259,503 C1268,485 1276,465 1279.5,440 C1283,410 1286,385 1289,352 Z" fill="#f0f5ef" stroke="#a9cfa8" stroke-width="1.2"/>
<path d="M1115.00,479.00 C1127.50,478.42 1157.50,479.00 1178.00,479.00 C1198.50,479.00 1225.67,478.42 1238.00,479.00 C1250.33,479.58 1248.58,480.00 1252.00,482.50 C1255.42,485.00 1257.83,489.25 1258.50,494.00 C1259.17,498.75 1258.08,505.33 1256.00,511.00 C1253.92,516.67 1250.67,522.75 1246.00,528.00 C1241.33,533.25 1235.67,538.33 1228.00,542.50 C1220.33,546.67 1210.00,550.75 1200.00,553.00 C1190.00,555.25 1178.00,555.92 1168.00,556.00 C1158.00,556.08 1148.67,555.67 1140.00,553.50 C1131.33,551.33 1122.33,547.92 1116.00,543.00 C1109.67,538.08 1105.25,530.33 1102.00,524.00 C1098.75,517.67 1097.33,510.50 1096.50,505.00 C1095.67,499.50 1095.92,494.75 1097.00,491.00 C1098.08,487.25 1100.00,484.50 1103.00,482.50 C1106.00,480.50 1102.50,479.58 1115.00,479.00Z" fill="#c1ddcb" stroke="#4f9a5b" stroke-width="3.4"/>
<path d="M1220.00,235.30 C1211.67,235.88 1199.83,237.63 1190.00,241.50 C1180.17,245.37 1171.17,249.92 1161.00,258.50 C1150.83,267.08 1137.25,281.83 1129.00,293.00 C1120.75,304.17 1115.33,316.83 1111.50,325.50 C1107.67,334.17 1106.50,340.00 1106.00,345.00 C1105.50,350.00 1106.67,352.75 1108.50,355.50 C1110.33,358.25 1112.58,360.17 1117.00,361.50 C1121.42,362.83 1125.33,363.00 1135.00,363.50 C1144.67,364.00 1162.50,364.25 1175.00,364.50 C1187.50,364.75 1197.50,365.08 1210.00,365.00 C1222.50,364.92 1239.17,364.50 1250.00,364.00 C1260.83,363.50 1268.50,363.17 1275.00,362.00 C1281.50,360.83 1285.58,359.33 1289.00,357.00 C1292.42,354.67 1294.42,352.50 1295.50,348.00 C1296.58,343.50 1296.25,337.50 1295.50,330.00 C1294.75,322.50 1293.75,313.42 1291.00,303.00 C1288.25,292.58 1284.33,276.92 1279.00,267.50 C1273.67,258.08 1265.50,251.42 1259.00,246.50 C1252.50,241.58 1246.50,239.87 1240.00,238.00 C1233.50,236.13 1228.33,234.72 1220.00,235.30Z" fill="#c1ddcb" stroke="#82c781" stroke-width="3.5"/>
<path d="M1185.00,672.00 C1185.00,666.67 1185.00,651.17 1185.00,640.00 C1185.00,628.83 1184.75,613.83 1185.00,605.00 C1185.25,596.17 1185.33,592.50 1186.50,587.00 C1187.67,581.50 1189.58,576.17 1192.00,572.00 C1194.42,567.83 1197.00,565.33 1201.00,562.00 C1205.00,558.67 1210.17,555.08 1216.00,552.00 C1221.83,548.92 1229.50,546.50 1236.00,543.50 C1242.50,540.50 1249.67,537.25 1255.00,534.00 C1260.33,530.75 1264.33,528.00 1268.00,524.00 C1271.67,520.00 1275.00,514.50 1277.00,510.00 C1279.00,505.50 1280.00,501.17 1280.00,497.00 C1280.00,492.83 1278.83,488.25 1277.00,485.00 C1275.17,481.75 1272.33,479.17 1269.00,477.50 C1265.67,475.83 1259.00,475.42 1257.00,475.00 L1112.5,475  C1110.42,475.50 1103.75,475.50 1100.00,478.00 C1096.25,480.50 1092.67,485.50 1090.00,490.00 C1087.33,494.50 1085.17,500.00 1084.00,505.00 C1082.83,510.00 1082.50,515.00 1083.00,520.00 C1083.50,525.00 1085.33,530.67 1087.00,535.00 C1088.67,539.33 1090.67,543.00 1093.00,546.00 C1095.33,549.00 1098.50,551.42 1101.00,553.00 C1103.50,554.58 1105.50,555.50 1108.00,555.50 C1110.50,555.50 1113.42,554.58 1116.00,553.00 C1118.58,551.42 1122.25,547.17 1123.50,546.00" fill="none" stroke="#0f5a27" stroke-width="5" stroke-linejoin="round"/>
<path d="M1281.00,267.50 C1282.50,266.42 1286.83,262.67 1290.00,261.00 C1293.17,259.33 1296.67,258.25 1300.00,257.50 C1303.33,256.75 1306.33,256.25 1310.00,256.50 C1313.67,256.75 1318.33,257.08 1322.00,259.00 C1325.67,260.92 1329.50,264.00 1332.00,268.00 C1334.50,272.00 1336.50,278.00 1337.00,283.00 C1337.50,288.00 1336.17,293.50 1335.00,298.00 C1333.83,302.50 1332.33,306.42 1330.00,310.00 C1327.67,313.58 1324.00,316.67 1321.00,319.50 C1318.00,322.33 1315.00,324.25 1312.00,327.00 C1309.00,329.75 1305.55,332.72 1303.00,336.00 C1300.45,339.28 1298.45,342.42 1296.70,346.70 C1294.95,350.98 1293.45,356.98 1292.50,361.70 C1291.55,366.42 1291.00,370.28 1291.00,375.00 C1291.00,379.72 1291.67,384.67 1292.50,390.00 C1293.33,395.33 1294.75,401.58 1296.00,407.00 C1297.25,412.42 1298.33,417.17 1300.00,422.50 C1301.67,427.83 1303.83,433.08 1306.00,439.00 C1308.17,444.92 1310.67,451.17 1313.00,458.00 C1315.33,464.83 1318.17,473.00 1320.00,480.00 C1321.83,487.00 1323.25,494.67 1324.00,500.00 C1324.75,505.33 1324.58,503.67 1324.50,512.00 C1324.42,520.33 1323.83,537.17 1323.50,550.00 C1323.17,562.83 1322.67,582.50 1322.50,589.00" fill="none" stroke="#0f5a27" stroke-width="5"/>
<ellipse cx="1374.25" cy="451.5" rx="68" ry="83" fill="#f9d8e7" stroke="#efb2cf" stroke-width="4"/>
<circle cx="1332" cy="354.5" r="25.5" fill="#f9c1c1" stroke="#f28c8c" stroke-width="3"/>
<ellipse cx="1393.75" cy="382.8" rx="42" ry="31.2" fill="#e4a8d2" stroke="#d08fca" stroke-width="3.5"/>
<ellipse cx="1321.25" cy="378" rx="24.5" ry="16.5" fill="#a9daf4" stroke="#1767b4" stroke-width="3.5"/>
<g fill="none" stroke="#1a1a1a" stroke-width="2.3"><path d="M1327,348.3 L1373.5,276.3 H1427.5"/><path d="M1327,374.5 L1372.5,314.7 H1424"/></g>
<circle cx="1327" cy="348.3" r="5.3" fill="#1a1a1a"/><circle cx="1327" cy="374.5" r="5.3" fill="#1a1a1a"/>
<g fill="none" stroke="#222" stroke-width="2.3">
<path d="M1108.75,245 V225 H1317.5 V245 M1213.75,225 V209.5"/>
<path d="M1116,491 V498.75 H1247.2 V491 M1165.5,498.75 V677.5 H1119"/>
<path d="M713,123 V102.5 H1023.75 V123 M868.75,102.5 V87.5"/>
<path d="M731.25,487.5 V508 H855.5 V487.5 M793.75,508 V520"/>
</g>
<g fill="none" stroke-width="4.9" stroke-linecap="round" stroke-linejoin="round">
<path d="M380.30,575.80 C381.00,577.33 383.32,581.38 384.50,585.00 C385.68,588.62 386.45,595.05 387.39,597.52 C388.33,599.99 389.21,599.27 390.14,599.82 C391.07,600.37 392.01,600.73 392.97,600.84 C393.94,600.95 394.93,600.81 395.95,600.48 C396.97,600.14 398.02,599.55 399.10,598.86 C400.18,598.16 401.29,597.22 402.42,596.28 C403.54,595.34 404.71,594.22 405.85,593.20 C406.99,592.18 408.15,591.07 409.27,590.14 C410.38,589.22 411.49,588.31 412.55,587.64 C413.61,586.96 414.64,586.41 415.64,586.11 C416.63,585.82 417.59,585.72 418.54,585.87 C419.49,586.01 420.40,586.39 421.32,586.96 C422.24,587.54 423.15,588.37 424.07,589.30 C424.99,590.23 425.91,591.40 426.85,592.55 C427.78,593.70 428.73,595.02 429.69,596.21 C430.66,597.41 431.63,598.68 432.63,599.74 C433.62,600.80 434.64,601.81 435.66,602.57 C436.69,603.32 437.74,603.93 438.78,604.26 C439.82,604.59 440.87,604.70 441.90,604.55 C442.94,604.40 443.97,603.98 444.98,603.37 C445.99,602.77 446.99,601.89 447.97,600.92 C448.95,599.95 449.91,598.76 450.85,597.57 C451.79,596.39 452.71,595.05 453.61,593.82 C454.51,592.60 455.38,591.31 456.24,590.23 C457.10,589.14 457.93,588.10 458.76,587.30 C459.58,586.50 460.38,585.85 461.21,585.45 C462.05,585.04 462.88,584.85 463.78,584.86 C464.68,584.87 465.60,585.13 466.62,585.51 C467.64,585.89 468.72,586.51 469.88,587.15 C471.05,587.79 472.31,588.62 473.61,589.36 C474.92,590.10 476.32,590.94 477.73,591.59 C479.13,592.24 480.61,592.88 482.03,593.25 C483.45,593.63 484.91,593.88 486.24,593.84 C487.57,593.80 488.88,593.54 489.99,593.03 C491.09,592.52 492.10,591.73 492.87,590.78 C493.64,589.82 494.23,588.59 494.61,587.29 C494.99,586.00 495.14,584.49 495.16,583.00 C495.17,581.51 494.95,579.89 494.69,578.37 C494.43,576.85 493.99,575.29 493.61,573.87 C493.22,572.44 492.73,571.07 492.38,569.85 C492.03,568.63 491.66,567.52 491.50,566.54 C491.35,565.56 491.27,564.73 491.43,563.97 C491.59,563.21 491.92,562.60 492.45,561.97 C492.98,561.34 493.74,560.82 494.62,560.20 C495.49,559.59 496.61,559.02 497.71,558.25 C498.81,557.48 500.12,556.63 501.22,555.60 C502.33,554.57 503.49,553.35 504.36,552.07 C505.22,550.79 505.96,549.31 506.42,547.93 C506.87,546.55 507.11,545.08 507.10,543.79 C507.09,542.51 506.84,541.30 506.37,540.24 C505.91,539.19 505.18,538.25 504.30,537.46 C503.42,536.67 502.31,536.02 501.09,535.51 C499.86,535.00 498.41,534.66 496.94,534.39 C495.47,534.12 493.84,534.01 492.29,533.88 C490.73,533.75 489.11,533.73 487.63,533.59 C486.15,533.44 484.67,533.31 483.39,533.01 C482.11,532.71 480.92,532.33 479.95,531.78 C478.99,531.23 478.20,530.54 477.60,529.71 C477.01,528.88 476.61,527.91 476.38,526.82 C476.15,525.73 476.15,524.50 476.24,523.19 C476.33,521.88 476.62,520.43 476.93,518.98 C477.25,517.53 477.71,515.98 478.13,514.51 C478.55,513.04 479.07,511.54 479.45,510.15 C479.83,508.76 480.24,507.41 480.44,506.19 C480.64,504.97 480.76,503.83 480.65,502.82 C480.54,501.81 480.27,500.91 479.77,500.11 C479.27,499.31 478.56,498.63 477.67,498.01 C476.78,497.39 475.66,496.89 474.45,496.41 C473.24,495.92 471.81,495.52 470.40,495.09 C468.98,494.65 467.41,494.27 465.94,493.80 C464.47,493.34 462.94,492.88 461.60,492.31 C460.25,491.75 458.94,491.14 457.87,490.42 C456.81,489.70 455.87,488.90 455.20,488.01 C454.53,487.12 454.08,486.12 453.87,485.07 C453.66,484.01 453.71,482.85 453.96,481.67 C454.20,480.49 454.72,479.23 455.34,477.98 C455.96,476.73 456.82,475.43 457.68,474.18 C458.54,472.92 459.57,471.65 460.49,470.44 C461.42,469.23 462.41,468.04 463.21,466.91 C464.02,465.78 464.78,464.69 465.31,463.65 C465.84,462.61 466.23,461.64 466.37,460.69 C466.50,459.75 466.43,458.87 466.14,457.98 C465.85,457.10 465.30,456.26 464.61,455.38 C463.92,454.51 462.98,453.65 461.99,452.74 C461.00,451.83 459.80,450.90 458.66,449.91 C457.53,448.92 456.26,447.88 455.17,446.80 C454.08,445.72 452.96,444.57 452.10,443.41 C451.25,442.25 450.48,441.02 450.01,439.81 C449.55,438.60 449.28,437.35 449.32,436.17 C449.36,434.99 449.67,433.79 450.24,432.72 C450.80,431.64 451.68,430.61 452.71,429.73 C453.74,428.86 455.06,428.08 456.42,427.47 C457.79,426.86 459.37,426.40 460.88,426.06 C462.38,425.73 464.01,425.58 465.45,425.47 C466.90,425.36 468.32,425.41 469.52,425.42 C470.72,425.43 471.78,425.54 472.66,425.51 C473.54,425.47 474.19,425.46 474.78,425.22 C475.37,424.97 475.75,424.63 476.20,424.06 C476.65,423.49 477.00,422.73 477.49,421.81 C477.97,420.90 478.49,419.76 479.11,418.59 C479.74,417.41 480.46,416.05 481.24,414.77 C482.03,413.49 482.90,412.11 483.81,410.90 C484.73,409.69 485.71,408.47 486.72,407.51 C487.72,406.56 488.78,405.73 489.84,405.19 C490.89,404.65 491.98,404.34 493.04,404.28 C494.10,404.22 495.17,404.44 496.19,404.85 C497.22,405.27 498.21,405.97 499.21,406.78 C500.20,407.60 501.17,408.66 502.15,409.74 C503.13,410.83 504.11,412.09 505.09,413.27 C506.07,414.45 507.06,415.72 508.04,416.82 C509.03,417.92 510.01,419.02 511.00,419.87 C511.99,420.71 512.97,421.45 513.96,421.92 C514.95,422.39 515.95,422.65 516.95,422.66 C517.95,422.68 518.95,422.43 519.95,421.99 C520.96,421.55 521.97,420.83 522.99,420.01 C524.00,419.19 525.02,418.12 526.04,417.04 C527.05,415.97 528.07,414.72 529.09,413.56 C530.11,412.41 531.12,411.18 532.14,410.13 C533.15,409.08 534.16,408.06 535.17,407.29 C536.18,406.51 537.18,405.87 538.18,405.49 C539.19,405.11 540.18,404.95 541.18,405.03 C542.18,405.11 543.17,405.45 544.16,405.98 C545.15,406.51 546.14,407.31 547.13,408.20 C548.13,409.10 549.12,410.23 550.11,411.35 C551.10,412.47 552.09,413.76 553.08,414.93 C554.07,416.10 555.06,417.34 556.05,418.38 C557.05,419.41 558.04,420.41 559.04,421.15 C560.03,421.89 561.03,422.50 562.03,422.83 C563.02,423.16 564.02,423.27 565.02,423.13 C566.03,423.00 567.03,422.60 568.03,422.03 C569.04,421.46 570.04,420.62 571.05,419.70 C572.05,418.77 573.06,417.62 574.07,416.50 C575.08,415.37 576.08,414.10 577.09,412.95 C578.10,411.80 579.11,410.60 580.12,409.61 C581.13,408.62 582.13,407.69 583.14,407.01 C584.15,406.34 585.15,405.82 586.15,405.57 C587.16,405.32 588.16,405.30 589.16,405.51 C590.15,405.73 591.15,406.21 592.15,406.86 C593.14,407.50 594.13,408.41 595.12,409.39 C596.12,410.37 597.11,411.56 598.10,412.72 C599.09,413.87 600.08,415.16 601.07,416.32 C602.06,417.47 603.05,418.66 604.04,419.62 C605.04,420.59 606.03,421.49 607.03,422.12 C608.02,422.76 609.02,423.22 610.02,423.42 C611.02,423.62 612.02,423.58 613.03,423.31 C614.03,423.05 615.04,422.51 616.04,421.82 C617.05,421.14 618.06,420.19 619.06,419.19 C620.07,418.19 621.07,416.98 622.08,415.83 C623.08,414.67 624.09,413.39 625.09,412.27 C626.09,411.14 627.09,409.99 628.09,409.07 C629.09,408.15 630.08,407.32 631.08,406.75 C632.08,406.19 633.08,405.80 634.08,405.67 C635.07,405.55 636.07,405.67 637.07,406.00 C638.07,406.34 639.07,406.95 640.07,407.69 C641.07,408.43 642.07,409.43 643.08,410.47 C644.08,411.51 645.08,412.74 646.08,413.90 C647.08,415.07 648.08,416.34 649.08,417.45 C650.08,418.56 651.08,419.67 652.08,420.55 C653.08,421.43 654.08,422.20 655.08,422.71 C656.08,423.22 657.08,423.53 658.08,423.59 C659.08,423.65 660.08,423.45 661.08,423.05 C662.08,422.65 663.25,421.80 664.08,421.18 C664.92,420.56 664.93,420.44 666.08,419.33 C667.23,418.21 669.51,416.47 671.00,414.50 C672.49,412.53 673.50,410.17 675.00,407.50 C676.50,404.83 678.33,401.42 680.00,398.50 C681.67,395.58 682.78,393.08 685.00,390.00 C687.22,386.92 690.80,382.72 693.30,380.00 C695.80,377.28 697.88,375.27 700.00,373.70 C702.12,372.13 703.67,371.28 706.00,370.60 C708.33,369.92 710.67,369.78 714.00,369.60 C717.33,369.42 724.00,369.52 726.00,369.50 L1270,369.5" stroke="url(#gT)" stroke-linecap="butt" stroke-width="5.2"/>
<path d="M377.50,594.20 C378.50,594.25 381.27,594.89 383.50,594.50 C385.73,594.11 389.11,592.84 390.91,591.86 C392.70,590.88 393.14,589.62 394.26,588.64 C395.38,587.66 396.51,586.70 397.62,585.98 C398.73,585.26 399.83,584.67 400.90,584.35 C401.97,584.03 403.02,583.91 404.02,584.05 C405.02,584.18 405.99,584.58 406.91,585.16 C407.84,585.75 408.72,586.60 409.60,587.57 C410.47,588.53 411.30,589.73 412.16,590.93 C413.01,592.13 413.85,593.51 414.72,594.78 C415.60,596.05 416.48,597.40 417.40,598.55 C418.32,599.69 419.27,600.81 420.24,601.67 C421.21,602.53 422.22,603.25 423.23,603.70 C424.24,604.15 425.27,604.39 426.31,604.37 C427.35,604.35 428.40,604.06 429.44,603.58 C430.49,603.10 431.55,602.34 432.59,601.48 C433.63,600.62 434.67,599.52 435.69,598.41 C436.71,597.31 437.72,596.03 438.71,594.86 C439.70,593.69 440.66,592.45 441.62,591.39 C442.59,590.34 443.53,589.31 444.48,588.54 C445.42,587.77 446.36,587.12 447.31,586.75 C448.26,586.38 449.20,586.23 450.17,586.31 C451.14,586.39 452.11,586.73 453.11,587.24 C454.10,587.75 455.11,588.51 456.16,589.35 C457.20,590.18 458.27,591.24 459.39,592.24 C460.50,593.24 461.66,594.39 462.86,595.37 C464.05,596.34 465.31,597.36 466.55,598.12 C467.80,598.88 469.10,599.54 470.34,599.93 C471.58,600.31 472.84,600.50 474.00,600.42 C475.16,600.33 476.30,599.99 477.30,599.41 C478.30,598.83 479.23,597.97 480.02,596.94 C480.81,595.92 481.49,594.62 482.04,593.27 C482.59,591.92 482.99,590.36 483.31,588.85 C483.62,587.35 483.78,585.73 483.92,584.25 C484.06,582.77 484.07,581.28 484.15,579.98 C484.24,578.68 484.25,577.46 484.42,576.44 C484.59,575.41 484.78,574.54 485.18,573.81 C485.58,573.09 486.10,572.54 486.82,572.08 C487.53,571.61 488.43,571.31 489.48,571.01 C490.53,570.71 491.78,570.54 493.10,570.28 C494.42,570.02 495.93,569.80 497.40,569.44 C498.87,569.08 500.46,568.68 501.90,568.11 C503.34,567.53 504.82,566.84 506.04,565.99 C507.25,565.14 508.40,564.13 509.20,563.00 C510.00,561.86 510.62,560.52 510.86,559.20 C511.10,557.87 511.03,556.38 510.64,555.06 C510.24,553.74 509.45,552.39 508.48,551.28 C507.50,550.18 506.15,549.22 504.79,548.45 C503.44,547.68 501.84,547.14 500.34,546.65 C498.85,546.16 497.24,545.87 495.81,545.51 C494.37,545.16 492.94,544.90 491.73,544.52 C490.52,544.15 489.44,543.77 488.54,543.26 C487.64,542.75 486.89,542.18 486.33,541.47 C485.77,540.75 485.40,539.94 485.17,538.96 C484.93,537.98 484.89,536.83 484.93,535.58 C484.98,534.34 485.19,532.91 485.44,531.48 C485.70,530.05 486.10,528.50 486.45,526.99 C486.81,525.49 487.26,523.92 487.57,522.48 C487.87,521.03 488.16,519.61 488.26,518.32 C488.36,517.03 488.36,515.81 488.16,514.76 C487.96,513.71 487.60,512.78 487.04,512.00 C486.49,511.22 485.75,510.61 484.83,510.08 C483.92,509.55 482.80,509.18 481.58,508.82 C480.36,508.46 478.94,508.21 477.51,507.93 C476.08,507.64 474.49,507.41 472.99,507.11 C471.48,506.80 469.89,506.50 468.48,506.09 C467.07,505.69 465.67,505.23 464.50,504.66 C463.33,504.08 462.27,503.42 461.47,502.64 C460.66,501.86 460.05,500.96 459.68,499.97 C459.31,498.98 459.18,497.86 459.25,496.69 C459.31,495.52 459.63,494.23 460.06,492.93 C460.50,491.64 461.16,490.26 461.84,488.91 C462.51,487.56 463.36,486.18 464.13,484.85 C464.89,483.53 465.74,482.21 466.42,480.97 C467.10,479.73 467.76,478.54 468.19,477.43 C468.62,476.31 468.94,475.27 469.01,474.29 C469.08,473.31 468.95,472.40 468.59,471.53 C468.24,470.66 467.64,469.86 466.87,469.07 C466.11,468.27 465.09,467.53 463.99,466.76 C462.90,465.99 461.59,465.25 460.31,464.46 C459.04,463.67 457.62,462.88 456.34,462.03 C455.05,461.18 453.73,460.29 452.63,459.35 C451.53,458.40 450.50,457.40 449.75,456.37 C449.00,455.34 448.42,454.24 448.13,453.15 C447.84,452.05 447.81,450.91 448.02,449.80 C448.24,448.70 448.75,447.57 449.44,446.51 C450.13,445.44 451.11,444.39 452.17,443.42 C453.24,442.44 454.54,441.51 455.82,440.67 C457.09,439.82 458.53,439.05 459.84,438.34 C461.14,437.63 462.50,437.01 463.65,436.40 C464.80,435.80 465.89,435.28 466.74,434.72 C467.59,434.16 468.27,433.65 468.75,433.03 C469.23,432.40 469.48,431.77 469.60,430.98 C469.73,430.19 469.62,429.33 469.49,428.30 C469.36,427.27 469.02,426.10 468.82,424.80 C468.62,423.50 468.32,422.01 468.27,420.51 C468.22,419.01 468.24,417.32 468.53,415.78 C468.82,414.24 469.33,412.61 470.03,411.27 C470.73,409.93 471.71,408.67 472.72,407.76 C473.74,406.85 474.96,406.16 476.14,405.79 C477.32,405.42 478.57,405.35 479.78,405.52 C480.99,405.69 482.21,406.18 483.39,406.81 C484.56,407.44 485.72,408.34 486.83,409.30 C487.95,410.27 489.02,411.46 490.07,412.60 C491.11,413.74 492.11,415.02 493.10,416.14 C494.10,417.25 495.04,418.39 496.02,419.29 C496.99,420.19 497.96,420.99 498.94,421.51 C499.93,422.04 500.93,422.38 501.93,422.45 C502.93,422.52 503.95,422.33 504.96,421.94 C505.97,421.55 506.98,420.88 508.00,420.09 C509.01,419.31 510.02,418.27 511.04,417.22 C512.05,416.16 513.07,414.92 514.08,413.77 C515.10,412.62 516.12,411.37 517.14,410.30 C518.16,409.24 519.17,408.18 520.19,407.37 C521.20,406.55 522.21,405.86 523.22,405.43 C524.22,405.01 525.23,404.78 526.22,404.81 C527.22,404.84 528.22,405.13 529.21,405.61 C530.20,406.09 531.19,406.85 532.17,407.71 C533.16,408.57 534.14,409.67 535.13,410.78 C536.11,411.89 537.09,413.17 538.08,414.35 C539.07,415.53 540.05,416.79 541.04,417.85 C542.03,418.92 543.03,419.96 544.02,420.75 C545.01,421.54 546.01,422.19 547.01,422.58 C548.01,422.97 549.01,423.14 550.01,423.07 C551.01,423.00 552.02,422.66 553.02,422.14 C554.03,421.62 555.03,420.83 556.04,419.94 C557.05,419.06 558.06,417.94 559.07,416.83 C560.07,415.72 561.08,414.44 562.09,413.29 C563.10,412.13 564.11,410.91 565.11,409.89 C566.12,408.87 567.12,407.89 568.13,407.17 C569.13,406.45 570.14,405.88 571.14,405.57 C572.14,405.26 573.15,405.18 574.14,405.33 C575.14,405.49 576.14,405.91 577.14,406.50 C578.14,407.10 579.13,407.96 580.12,408.90 C581.12,409.85 582.11,411.02 583.10,412.16 C584.09,413.30 585.08,414.59 586.07,415.75 C587.06,416.92 588.05,418.13 589.04,419.13 C590.04,420.13 591.03,421.07 592.02,421.75 C593.02,422.44 594.01,422.96 595.01,423.22 C596.01,423.47 597.01,423.50 598.01,423.29 C599.01,423.08 600.02,422.61 601.02,421.97 C602.03,421.33 603.04,420.43 604.04,419.47 C605.05,418.50 606.06,417.32 607.07,416.18 C608.08,415.03 609.09,413.76 610.10,412.62 C611.10,411.49 612.11,410.32 613.11,409.37 C614.12,408.42 615.12,407.55 616.12,406.94 C617.12,406.32 618.12,405.88 619.12,405.71 C620.12,405.53 621.12,405.59 622.11,405.87 C623.11,406.16 624.10,406.72 625.10,407.42 C626.09,408.12 627.09,409.08 628.09,410.09 C629.08,411.11 630.08,412.32 631.08,413.48 C632.08,414.64 633.08,415.92 634.08,417.05 C635.08,418.17 636.09,419.31 637.09,420.23 C638.09,421.14 639.09,421.96 640.09,422.52 C641.09,423.08 642.09,423.45 643.09,423.56 C644.09,423.68 645.09,423.54 646.09,423.20 C647.09,422.85 648.09,422.23 649.09,421.47 C650.08,420.72 651.08,419.71 652.08,418.67 C653.08,417.63 654.08,416.39 655.08,415.22 C656.08,414.06 657.08,412.78 658.08,411.68 C659.08,410.57 660.08,409.46 661.08,408.59 C662.08,407.72 663.08,406.95 664.08,406.46 C665.08,405.96 665.43,405.35 667.08,405.61 C668.73,405.86 671.85,406.67 674.00,408.00 C676.15,409.33 678.25,411.27 680.00,413.60 C681.75,415.93 683.12,418.72 684.50,422.00 C685.88,425.28 686.97,429.63 688.30,433.30 C689.63,436.97 691.10,440.38 692.50,444.00 C693.90,447.62 695.28,451.75 696.70,455.00 C698.12,458.25 699.62,461.00 701.00,463.50 C702.38,466.00 703.58,468.25 705.00,470.00 C706.42,471.75 707.83,473.05 709.50,474.00 C711.17,474.95 712.25,475.41 715.00,475.70 C717.75,475.99 724.17,475.74 726.00,475.75 L996,475.75" stroke="url(#gN)" stroke-linecap="butt"/>
<path d="M425.91,591.39 C426.23,591.79 427.16,592.95 427.79,593.75 C428.42,594.55 429.05,595.40 429.69,596.21 C430.33,597.03 430.98,597.85 431.64,598.61 C432.29,599.38 432.96,600.12 433.63,600.78 C434.30,601.44 434.98,602.06 435.66,602.57 C436.35,603.08 437.04,603.52 437.73,603.84 C438.43,604.17 439.47,604.41 439.82,604.52" stroke="url(#gT)" stroke-linecap="butt" stroke-width="5.2"/>
<path d="M472.32,588.59 C472.76,588.85 474.05,589.63 474.95,590.13 C475.85,590.63 476.79,591.15 477.73,591.59 C478.67,592.04 479.63,592.47 480.59,592.80 C481.54,593.13 482.52,593.42 483.46,593.59 C484.40,593.76 485.35,593.86 486.24,593.84 C487.13,593.82 488.01,593.70 488.82,593.46 C489.62,593.23 490.69,592.61 491.06,592.43" stroke="url(#gT)" stroke-linecap="butt" stroke-width="5.2"/>
<path d="M498.87,557.47 C499.26,557.16 500.47,556.29 501.22,555.60 C501.98,554.92 502.75,554.15 503.41,553.34 C504.07,552.53 504.68,551.63 505.19,550.73 C505.69,549.83 506.11,548.87 506.42,547.93 C506.72,547.00 506.93,546.03 507.03,545.13 C507.13,544.23 507.12,543.35 507.01,542.53 C506.90,541.72 506.48,540.62 506.37,540.24" stroke="url(#gT)" stroke-linecap="butt" stroke-width="5.2"/>
<path d="M476.93,518.98 C477.06,518.48 477.42,517.00 477.70,516.01 C477.97,515.01 478.29,514.00 478.58,513.03 C478.87,512.05 479.19,511.08 479.45,510.15 C479.72,509.22 479.98,508.31 480.17,507.45 C480.37,506.59 480.54,505.77 480.62,504.99 C480.70,504.22 480.72,503.50 480.65,502.82 C480.58,502.14 480.27,501.25 480.20,500.94" stroke="url(#gT)" stroke-linecap="butt" stroke-width="5.2"/>
<path d="M456.82,475.44 C457.12,475.02 457.98,473.75 458.60,472.92 C459.21,472.08 459.87,471.25 460.49,470.44 C461.12,469.63 461.77,468.83 462.35,468.06 C462.94,467.28 463.51,466.52 464.01,465.79 C464.50,465.05 464.95,464.34 465.31,463.65 C465.67,462.96 465.96,462.29 466.15,461.65 C466.34,461.00 466.39,460.08 466.44,459.77" stroke="url(#gT)" stroke-linecap="butt" stroke-width="5.2"/>
<path d="M457.86,426.90 C458.36,426.76 459.86,426.28 460.88,426.06 C461.89,425.85 462.95,425.70 463.96,425.59 C464.96,425.48 465.97,425.44 466.89,425.41 C467.82,425.38 468.71,425.41 469.52,425.42 C470.33,425.43 471.07,425.48 471.73,425.49 C472.39,425.50 472.96,425.52 473.47,425.48 C473.98,425.43 474.56,425.26 474.78,425.22" stroke="url(#gT)" stroke-linecap="butt" stroke-width="5.2"/>
<path d="M502.15,409.74 C502.48,410.13 503.46,411.28 504.11,412.07 C504.76,412.85 505.42,413.68 506.07,414.48 C506.73,415.27 507.39,416.08 508.04,416.82 C508.70,417.57 509.36,418.30 510.01,418.94 C510.67,419.58 511.33,420.18 511.99,420.68 C512.65,421.18 513.30,421.60 513.96,421.92 C514.62,422.23 515.62,422.46 515.95,422.57" stroke="url(#gT)" stroke-linecap="butt" stroke-width="5.2"/>
<path d="M549.12,410.23 C549.45,410.61 550.44,411.74 551.10,412.52 C551.76,413.31 552.42,414.14 553.08,414.93 C553.74,415.72 554.40,416.53 555.06,417.28 C555.72,418.02 556.38,418.75 557.05,419.40 C557.71,420.05 558.37,420.65 559.04,421.15 C559.70,421.66 560.36,422.09 561.03,422.41 C561.69,422.73 562.69,422.97 563.02,423.09" stroke="url(#gT)" stroke-linecap="butt" stroke-width="5.2"/>
<path d="M596.12,410.43 C596.45,410.81 597.44,411.93 598.10,412.72 C598.76,413.50 599.42,414.33 600.08,415.12 C600.74,415.91 601.40,416.73 602.06,417.48 C602.72,418.23 603.38,418.97 604.04,419.62 C604.70,420.28 605.37,420.89 606.03,421.41 C606.69,421.92 607.36,422.37 608.02,422.70 C608.69,423.04 609.69,423.30 610.02,423.42" stroke="url(#gT)" stroke-linecap="butt" stroke-width="5.2"/>
<path d="M644.08,411.57 C644.41,411.96 645.41,413.12 646.08,413.90 C646.75,414.69 647.42,415.52 648.08,416.29 C648.75,417.07 649.42,417.85 650.08,418.56 C650.75,419.27 651.42,419.96 652.08,420.55 C652.75,421.14 653.42,421.68 654.08,422.12 C654.75,422.55 655.42,422.91 656.08,423.16 C656.75,423.40 657.75,423.52 658.08,423.59" stroke="url(#gT)" stroke-linecap="butt" stroke-width="5.2"/>
</g>
<g fill="#057fca" stroke="#1a69ad" stroke-width="1.5">
<ellipse cx="761.8" cy="270.8" rx="39.3" ry="85.6" transform="rotate(15.1 761.8 270.8)"/>
<ellipse cx="850" cy="270.3" rx="38.9" ry="85.8" transform="rotate(-12.5 850 270.3)"/>
<ellipse cx="979.6" cy="257.4" rx="33" ry="72.9" transform="rotate(-17.5 979.6 257.4)"/>
<ellipse cx="917.5" cy="189.3" rx="42.2" ry="30.3" transform="rotate(-2.9 917.5 189.3)"/>
<circle cx="778.75" cy="163.75" r="37.5"/>
<ellipse cx="848" cy="163.4" rx="39.3" ry="38"/>
</g>
<text x="754.5" y="170" font-size="22" fill="#1a1a1a" stroke="#1a1a1a" stroke-width="0.45" textLength="52.5" lengthAdjust="spacingAndGlyphs" >TINF2</text>
<text x="823.75" y="170" font-size="22" fill="#1a1a1a" stroke="#1a1a1a" stroke-width="0.45" textLength="46.3" lengthAdjust="spacingAndGlyphs" >RAP1</text>
<text x="896" y="196" font-size="22" fill="#1a1a1a" stroke="#1a1a1a" stroke-width="0.45" textLength="42.8" lengthAdjust="spacingAndGlyphs" >TPP1</text>
<g transform="translate(762.3,270.8) rotate(18.4)"><text x="0" y="7.5" font-size="22" fill="#1a1a1a" stroke="#1a1a1a" stroke-width="0.45" textLength="53" lengthAdjust="spacingAndGlyphs" text-anchor="middle" >TERF1</text></g>
<g transform="translate(847.6,272) rotate(-15.4)"><text x="0" y="7.5" font-size="22" fill="#1a1a1a" stroke="#1a1a1a" stroke-width="0.45" textLength="56" lengthAdjust="spacingAndGlyphs" text-anchor="middle" >TERF2</text></g>
<g transform="translate(979.2,259) rotate(-19)"><text x="0" y="7.5" font-size="22" fill="#1a1a1a" stroke="#1a1a1a" stroke-width="0.45" textLength="44" lengthAdjust="spacingAndGlyphs" text-anchor="middle" >POT1</text></g>
<text x="737" y="40.5" font-size="33.4" fill="#0a4f8c" font-weight="bold" stroke="#0a4f8c" stroke-width="0.7" stroke-linejoin="round" textLength="251.75" lengthAdjust="spacingAndGlyphs" >Shelterin complex</text>
<text x="252" y="113" font-size="31.7" fill="#0a4f8c" font-weight="bold" stroke="#0a4f8c" stroke-width="0.7" stroke-linejoin="round" textLength="175" lengthAdjust="spacingAndGlyphs" >Chromosome</text>
<text x="1070.2" y="166.1" font-size="31.2" fill="#0a4f8c" font-weight="bold" stroke="#0a4f8c" stroke-width="0.7" stroke-linejoin="round" textLength="272.3" lengthAdjust="spacingAndGlyphs" >Telomerase complex</text>
<text x="18.2" y="488.2" font-size="23.7" fill="#0a4f8c" font-weight="bold" stroke="#0a4f8c" stroke-width="0.7" stroke-linejoin="round" textLength="78.7" lengthAdjust="spacingAndGlyphs" >Nucleus</text>
<text x="317.2" y="684.9" font-size="31.2" fill="#0a4f8c" font-weight="bold" stroke="#0a4f8c" stroke-width="0.7" stroke-linejoin="round" textLength="122.6" lengthAdjust="spacingAndGlyphs" >Telomere</text>
<text x="677.8" y="561.3" font-size="31.2" fill="#0a4f8c" font-weight="bold" stroke="#0a4f8c" stroke-width="0.7" stroke-linejoin="round" textLength="227.8" lengthAdjust="spacingAndGlyphs" >Telomere repeats</text>
<text x="841.6" y="681.9" font-size="31.2" fill="#0a4f8c" font-weight="bold" stroke="#0a4f8c" stroke-width="0.7" stroke-linejoin="round" textLength="264" lengthAdjust="spacingAndGlyphs" >RNA matching motif</text>
<text x="736.25" y="408.1" font-size="35" fill="#0c417b" textLength="508.3" lengthAdjust="spacingAndGlyphs"><tspan stroke="#0c417b" stroke-width="0.45">TTAGGGTTAGGGTTAGGG</tspan><tspan font-weight="bold" stroke="#0c417b" stroke-width="0.7">TTAGGG</tspan></text>
<text x="734.5" y="460.6" font-size="35" fill="#0c417b" stroke="#0c417b" stroke-width="0.45" textLength="247.5" lengthAdjust="spacingAndGlyphs" >AATCCCAATCCC</text>
<text x="1118" y="461.25" font-size="34.7" fill="#0f5a27" font-weight="bold" stroke="#0f5a27" stroke-width="0.7" stroke-linejoin="round" textLength="129.5" lengthAdjust="spacingAndGlyphs" >AAUCCC</text>
<text x="1261.25" y="401.25" font-size="34" fill="#111" stroke="#111" stroke-width="0.45" textLength="21.75" lengthAdjust="spacingAndGlyphs" >3'</text>
<text x="1001" y="489.5" font-size="34" fill="#111" stroke="#111" stroke-width="0.45" textLength="20.5" lengthAdjust="spacingAndGlyphs" >5'</text>
<text x="1314.5" y="617" font-size="34" fill="#111" stroke="#111" stroke-width="0.45" textLength="22.5" lengthAdjust="spacingAndGlyphs" >3'</text>
<text x="1175.8" y="707" font-size="34" fill="#111" stroke="#111" stroke-width="0.45" textLength="21" lengthAdjust="spacingAndGlyphs" >5'</text>
<text x="1194" y="613.75" font-size="29" fill="#1e6a38" stroke="#1e6a38" stroke-width="0.45" textLength="68" lengthAdjust="spacingAndGlyphs" >TERC</text>
<text x="1179.2" y="319.9" font-size="26.5" fill="#231f20" stroke="#231f20" stroke-width="0.45" textLength="56.8" lengthAdjust="spacingAndGlyphs" >TERT</text>
<text x="1362.5" y="388.75" font-size="25.5" fill="#1a1a1a" stroke="#1a1a1a" stroke-width="0.45" textLength="60" lengthAdjust="spacingAndGlyphs" >GAR1</text>
<text x="1325.5" y="455" font-size="27" fill="#1a1a1a" stroke="#1a1a1a" stroke-width="0.45" textLength="97" lengthAdjust="spacingAndGlyphs" >Dyskerin</text>
<text x="1333.75" y="485" font-size="27" fill="#1a1a1a" stroke="#1a1a1a" stroke-width="0.45" textLength="81.25" lengthAdjust="spacingAndGlyphs" >(DKC1)</text>
<text x="1430.8" y="283.7" font-size="29.5" fill="#14548f" stroke="#14548f" stroke-width="0.45" textLength="73.2" lengthAdjust="spacingAndGlyphs" >NHP2</text>
<text x="1430.8" y="325" font-size="29.5" fill="#14548f" stroke="#14548f" stroke-width="0.45" textLength="89.2" lengthAdjust="spacingAndGlyphs" >NOP10</text>
</svg>
</body></html>
